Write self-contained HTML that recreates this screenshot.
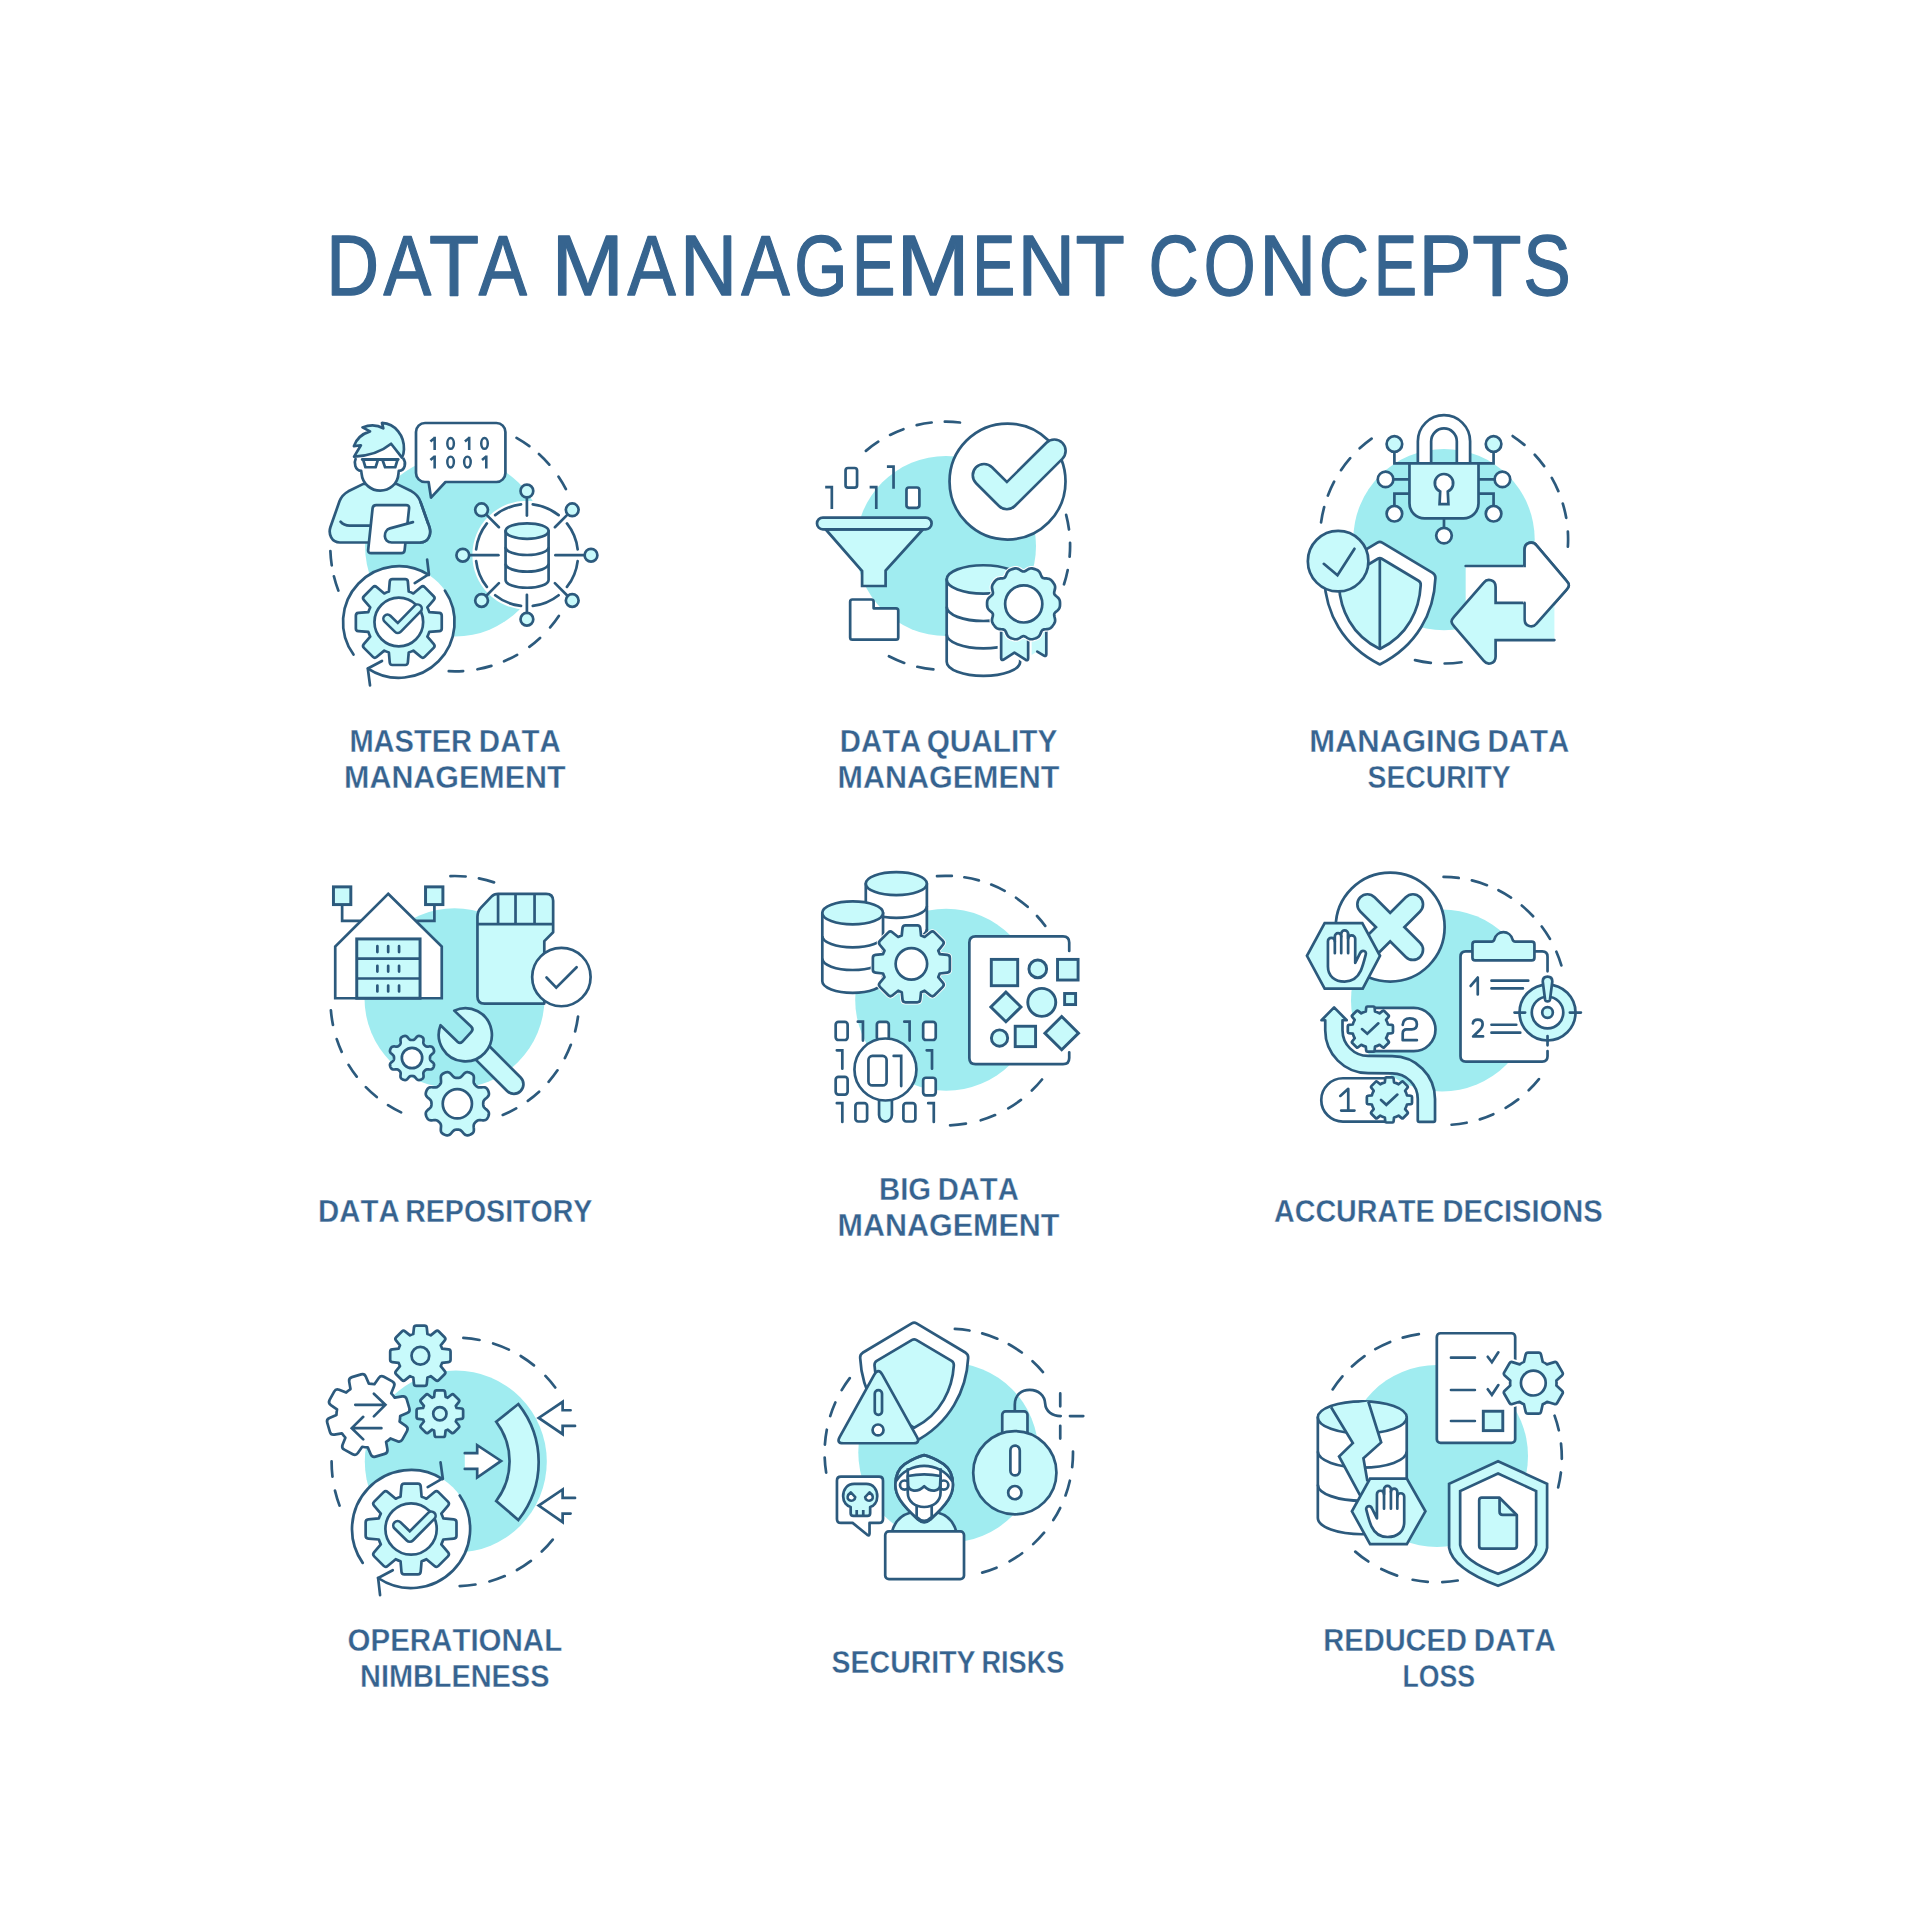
<!DOCTYPE html>
<html><head><meta charset="utf-8"><title>Data management concepts</title>
<style>
html,body{margin:0;padding:0;background:#fff}
body{width:1920px;height:1920px;overflow:hidden}
svg{display:block}
text{font-family:"Liberation Sans",sans-serif;font-kerning:none}
.dg{font-weight:bold;font-size:17px;fill:#2c5a7d;text-anchor:middle}
.lb{font-weight:bold;fill:#36638f;stroke:#ffffff;stroke-width:0.35px}
.tt{fill:#36648f;stroke:#36648f;stroke-width:1.3px;stroke-linejoin:round}
</style></head><body>
<svg width="1920" height="1920" viewBox="0 0 1920 1920" stroke-width="2.7" stroke-linejoin="round">
<rect width="1920" height="1920" fill="#ffffff"/>
<g id="icon1"><circle cx="455.1" cy="546.5" r="90" fill="#a0ecf0" stroke="none"/><path d="M516.55,437.88 A124.8,124.8 0 0 1 529.33,446.18 M538.93,454.05 A124.8,124.8 0 0 1 549.29,464.62 M558.56,476.71 A124.8,124.8 0 0 1 565.9,489.07 M558.81,615.93 A124.8,124.8 0 0 1 550.14,627.39 M540.05,637.92 A124.8,124.8 0 0 1 529.33,646.82 M517.12,654.8 A124.8,124.8 0 0 1 504.06,661.29 M491.38,665.91 A124.8,124.8 0 0 1 477.41,669.29 M463.15,671.04 A124.8,124.8 0 0 1 448.79,671.14 M338.36,590.61 A124.8,124.8 0 0 1 333.9,576.27 M331.74,565.38 A124.8,124.8 0 0 1 330.38,551.07" fill="none" stroke="#2c5a7d" stroke-width="2.7" stroke-linecap="round"/><g transform="translate(445,470) scale(0.088543)" ><circle cx="925" cy="962" r="616" fill="#ffffff" stroke="none"/><path d="M991.32,388.82 A577,577 0 0 1 1283.4,509.81 M1377.19,603.6 A577,577 0 0 1 1498.18,895.68 M1498.18,1028.32 A577,577 0 0 1 1377.19,1320.4 M1283.4,1414.19 A577,577 0 0 1 991.32,1535.18 M858.68,1535.18 A577,577 0 0 1 566.6,1414.19 M472.81,1320.4 A577,577 0 0 1 351.82,1028.32 M351.82,895.68 A577,577 0 0 1 472.81,603.6 M566.6,509.81 A577,577 0 0 1 858.68,388.82" fill="none" stroke="#2c5a7d" stroke-width="30.49" stroke-linecap="round"/><path d="M925,515 L925,310" fill="none" stroke="#2c5a7d" stroke-width="30.49" stroke-linecap="round"/><circle cx="925" cy="238" r="72" fill="#c8fafb" stroke="#2c5a7d" stroke-width="30.49"/><path d="M1241.08,645.92 L1386.03,500.97" fill="none" stroke="#2c5a7d" stroke-width="30.49" stroke-linecap="round"/><circle cx="1436.95" cy="450.05" r="72" fill="#c8fafb" stroke="#2c5a7d" stroke-width="30.49"/><path d="M1247,962 L1577,962" fill="none" stroke="#2c5a7d" stroke-width="30.49" stroke-linecap="round"/><circle cx="1649" cy="962" r="72" fill="#c8fafb" stroke="#2c5a7d" stroke-width="30.49"/><path d="M1241.08,1278.08 L1386.03,1423.03" fill="none" stroke="#2c5a7d" stroke-width="30.49" stroke-linecap="round"/><circle cx="1436.95" cy="1473.95" r="72" fill="#c8fafb" stroke="#2c5a7d" stroke-width="30.49"/><path d="M925,1409 L925,1614" fill="none" stroke="#2c5a7d" stroke-width="30.49" stroke-linecap="round"/><circle cx="925" cy="1686" r="72" fill="#c8fafb" stroke="#2c5a7d" stroke-width="30.49"/><path d="M608.92,1278.08 L463.97,1423.03" fill="none" stroke="#2c5a7d" stroke-width="30.49" stroke-linecap="round"/><circle cx="413.05" cy="1473.95" r="72" fill="#c8fafb" stroke="#2c5a7d" stroke-width="30.49"/><path d="M603,962 L273,962" fill="none" stroke="#2c5a7d" stroke-width="30.49" stroke-linecap="round"/><circle cx="201" cy="962" r="72" fill="#c8fafb" stroke="#2c5a7d" stroke-width="30.49"/><path d="M608.92,645.92 L463.97,500.97" fill="none" stroke="#2c5a7d" stroke-width="30.49" stroke-linecap="round"/><circle cx="413.05" cy="450.05" r="72" fill="#c8fafb" stroke="#2c5a7d" stroke-width="30.49"/><path d="M684,690 L684,1242 A243,88 0 0 0 1170,1242 L1170,690 Z" fill="#ffffff" stroke="#2c5a7d" stroke-width="30.49"/><path d="M684,872 A243,88 0 0 0 1170,872" fill="none" stroke="#2c5a7d" stroke-width="30.49"/><path d="M684,1060 A243,88 0 0 0 1170,1060" fill="none" stroke="#2c5a7d" stroke-width="30.49"/><ellipse cx="927" cy="690" rx="243" ry="88" fill="#c8fafb" stroke="#2c5a7d" stroke-width="30.49"/></g><path d="M425,423 L496.4,423 A9,9 0 0 1 505.4,432 L505.4,473 A9,9 0 0 1 496.4,482 L445.5,482 L431,497.6 L428.6,482 L425,482 A9,9 0 0 1 416,473 L416,432 A9,9 0 0 1 425,423 Z" fill="#ffffff" stroke="#2c5a7d" stroke-width="2.7" stroke-linejoin="round"/><g transform="translate(320,415) scale(0.088543)" ><path d="M1295,247 L1295,395 M1247,299 L1291,261" fill="none" stroke="#2c5a7d" stroke-width="29" stroke-linecap="butt"/><ellipse cx="1475" cy="321" rx="37" ry="61" fill="none" stroke="#2c5a7d" stroke-width="28"/><path d="M1685,247 L1685,395 M1637,299 L1681,261" fill="none" stroke="#2c5a7d" stroke-width="29" stroke-linecap="butt"/><ellipse cx="1858" cy="321" rx="37" ry="61" fill="none" stroke="#2c5a7d" stroke-width="28"/><path d="M1295,457 L1295,605 M1247,509 L1291,471" fill="none" stroke="#2c5a7d" stroke-width="29" stroke-linecap="butt"/><ellipse cx="1475" cy="531" rx="37" ry="61" fill="none" stroke="#2c5a7d" stroke-width="28"/><ellipse cx="1665" cy="531" rx="37" ry="61" fill="none" stroke="#2c5a7d" stroke-width="28"/><path d="M1878,457 L1878,605 M1830,509 L1874,471" fill="none" stroke="#2c5a7d" stroke-width="29" stroke-linecap="butt"/></g><g transform="translate(320,415) scale(0.088543)" ><path d="M490,778 L320,862 C270,890 240,920 220,975 L118,1265 C92,1345 130,1440 225,1440 L1130,1440 C1225,1440 1262,1345 1235,1265 L1133,975 C1113,920 1085,890 1035,862 L865,778 Z" fill="#c8fafb" stroke="#2c5a7d" stroke-width="30.49" stroke-linejoin="round"/><path d="M232,1205 C260,1240 300,1250 335,1250 L570,1250" fill="none" stroke="#2c5a7d" stroke-width="30.49" stroke-linecap="round"/><path d="M635,1018 L972,1018 Q1010,1018 1006,1055 L956,1525 Q952,1560 918,1560 L578,1560 Q540,1560 544,1525 L594,1053 Q598,1018 635,1018 Z" fill="#ffffff" stroke="#2c5a7d" stroke-width="30.49"/><path d="M1050,1210 L790,1280 C712,1302 708,1440 810,1440 L1130,1440 C1190,1440 1225,1400 1235,1350 L1215,1230 Z" fill="#c8fafb" stroke="none"/><path d="M1050,1210 L790,1280 C712,1302 708,1440 810,1440 L1130,1440" fill="none" stroke="#2c5a7d" stroke-width="30.49" stroke-linecap="round"/><path d="M1130,1440 C1225,1440 1262,1345 1235,1265 L1133,975" fill="none" stroke="#2c5a7d" stroke-width="30.49"/><path d="M405,485 C380,540 395,625 465,632 L470,665 C480,780 580,855 680,855 C785,855 878,780 886,665 L890,632 C962,625 978,540 938,485" fill="#ffffff" stroke="#2c5a7d" stroke-width="30.49" stroke-linejoin="round"/><path d="M487,505 L513,590 L628,590 L655,505 Z M705,505 L735,590 L850,590 L876,505 Z" fill="#ffffff" stroke="#2c5a7d" stroke-width="30.49" stroke-linejoin="round"/><path d="M478,503 L882,503" fill="none" stroke="#2c5a7d" stroke-width="33.54" stroke-linecap="round"/><path d="M385,470 L462,342 L383,352 C410,270 470,215 565,185 L480,140 C560,108 650,112 715,150 L700,90 C850,100 955,230 948,390 C947,430 938,460 926,482 L803,325 C700,410 560,462 385,470 Z" fill="#c8fafb" stroke="#2c5a7d" stroke-width="30.49" stroke-linejoin="round"/></g><g transform="translate(320,545) scale(0.088543)" ><circle cx="890" cy="870" r="630" fill="#ffffff" stroke="none"/><path d="M378.39,1237.63 A630,630 0 0 1 1228.5,338.66" fill="none" stroke="#2c5a7d" stroke-width="30.49" stroke-linecap="round"/><path d="M1410.44,514.98 A630,630 0 0 1 542.28,1395.35" fill="none" stroke="#2c5a7d" stroke-width="30.49" stroke-linecap="round"/><path d="M1210,165 L1230,330 L1070,430" fill="none" stroke="#2c5a7d" stroke-width="30.49" stroke-linecap="round" stroke-linejoin="round"/><path d="M700,1310 L540,1395 L565,1585" fill="none" stroke="#2c5a7d" stroke-width="30.49" stroke-linecap="round" stroke-linejoin="round"/><path d="M778,525.76 L787.62,412.9 Q790,385 818,385 L962,385 Q990,385 992.38,412.9 L1002,525.76 A362,362 0 0 1 1054.22,547.39 L1140.83,474.39 Q1162.24,456.34 1182.04,476.14 L1283.86,577.96 Q1303.66,597.76 1285.61,619.17 L1212.61,705.78 A362,362 0 0 1 1234.24,758 L1347.1,767.62 Q1375,770 1375,798 L1375,942 Q1375,970 1347.1,972.38 L1234.24,982 A362,362 0 0 1 1212.61,1034.22 L1285.61,1120.83 Q1303.66,1142.24 1283.86,1162.04 L1182.04,1263.86 Q1162.24,1283.66 1140.83,1265.61 L1054.22,1192.61 A362,362 0 0 1 1002,1214.24 L992.38,1327.1 Q990,1355 962,1355 L818,1355 Q790,1355 787.62,1327.1 L778,1214.24 A362,362 0 0 1 725.78,1192.61 L639.17,1265.61 Q617.76,1283.66 597.96,1263.86 L496.14,1162.04 Q476.34,1142.24 494.39,1120.83 L567.39,1034.22 A362,362 0 0 1 545.76,982 L432.9,972.38 Q405,970 405,942 L405,798 Q405,770 432.9,767.62 L545.76,758 A362,362 0 0 1 567.39,705.78 L494.39,619.17 Q476.34,597.76 496.14,577.96 L597.96,476.14 Q617.76,456.34 639.17,474.39 L725.78,547.39 A362,362 0 0 1 778,525.76 Z" fill="#c8fafb" stroke="#2c5a7d" stroke-width="30.49" stroke-linejoin="round"/><circle cx="890" cy="870" r="275" fill="#ffffff" stroke="#2c5a7d" stroke-width="30.49"/><path d="M762,832 L880,947 L1103,718" fill="none" stroke="#2c5a7d" stroke-width="122" stroke-linecap="round" stroke-linejoin="round"/><path d="M762,832 L880,947 L1103,718" fill="none" stroke="#c8fafb" stroke-width="64" stroke-linecap="round" stroke-linejoin="round"/></g></g>
<g id="icon2"><circle cx="946" cy="546" r="90" fill="#a0ecf0" stroke="none"/><path d="M865.9,450.9 A124.2,124.2 0 0 1 878.26,441.74 M890.09,434.94 A124.2,124.2 0 0 1 903.42,429.19 M916.7,425.18 A124.2,124.2 0 0 1 931.62,422.52 M944.82,421.7 A124.2,124.2 0 0 1 959.96,422.5 M1066.14,514.8 A124.2,124.2 0 0 1 1069.01,529.47 M1070.06,542.87 A124.2,124.2 0 0 1 1069.63,556.72 M1067.73,570.02 A124.2,124.2 0 0 1 1064.02,584.28 M933.35,669.46 A124.2,124.2 0 0 1 917.33,666.77 M904.24,662.9 A124.2,124.2 0 0 1 888.94,656.27" fill="none" stroke="#2c5a7d" stroke-width="2.7" stroke-linecap="round"/><g transform="translate(805,410) scale(0.088543)" ><path d="M228,872 L303,872 L303,1118" fill="none" stroke="#2c5a7d" stroke-width="30.49" stroke-linecap="butt" stroke-linejoin="miter"/><rect x="458" y="655" width="130" height="222" rx="28" fill="#ffffff" stroke="#2c5a7d" stroke-width="30.49"/><path d="M730,872 L805,872 L805,1118" fill="none" stroke="#2c5a7d" stroke-width="30.49" stroke-linecap="butt" stroke-linejoin="miter"/><path d="M925,640 L1000,640 L1000,888" fill="none" stroke="#2c5a7d" stroke-width="30.49" stroke-linecap="butt" stroke-linejoin="miter"/><rect x="1146" y="875" width="146" height="230" rx="28" fill="#ffffff" stroke="#2c5a7d" stroke-width="30.49"/></g><path d="M825.8,529.5 L862.1,571 L862.1,586 L885.6,586 L885.6,570.5 L922.8,529.5 Z" fill="#c8fafb" stroke="#2c5a7d" stroke-width="2.7" stroke-linejoin="miter"/><rect x="817" y="517.6" width="114.6" height="11.7" rx="5.85" fill="#c8fafb" stroke="#2c5a7d" stroke-width="2.7"/><g transform="translate(805,540) scale(0.088543)" ><path d="M535,672 L750,672 Q775,672 775,697 L775,772 L1028,772 Q1053,772 1053,797 L1053,1100 Q1053,1125 1028,1125 L535,1125 Q510,1125 510,1100 L510,697 Q510,672 535,672 Z" fill="#ffffff" stroke="#2c5a7d" stroke-width="30.49"/></g><g transform="translate(925,410) scale(0.088543)" ><circle cx="932" cy="808" r="655" fill="#ffffff" stroke="#2c5a7d" stroke-width="30.49"/><path d="M667,737 L925,993 L1461,461" fill="none" stroke="#2c5a7d" stroke-width="285" stroke-linecap="round" stroke-linejoin="round"/><path d="M667,737 L925,993 L1461,461" fill="none" stroke="#c8fafb" stroke-width="225" stroke-linecap="round" stroke-linejoin="round"/></g><g transform="translate(925,540) scale(0.088543)" ><path d="M245,445 L245,1375 A415,160 0 0 0 1075,1375 L1075,445 Z" fill="#ffffff" stroke="#2c5a7d" stroke-width="30.49"/><path d="M245,755 A415,160 0 0 0 1075,755" fill="none" stroke="#2c5a7d" stroke-width="30.49"/><path d="M245,1065 A415,160 0 0 0 1075,1065" fill="none" stroke="#2c5a7d" stroke-width="30.49"/><ellipse cx="660" cy="445" rx="415" ry="160" fill="#c8fafb" stroke="#2c5a7d" stroke-width="30.49"/><path d="M1185,1080 L1370,1000 L1370,1290 Q1370,1318 1343,1305 L1268,1260 L1185,1310 Z" fill="#c8fafb" stroke="none"/><path d="M1370,1000 L1370,1290 Q1370,1318 1343,1305 L1268,1260" fill="none" stroke="#2c5a7d" stroke-width="30.49" stroke-linecap="round"/><path d="M860,990 L860,1335 Q860,1365 888,1350 L1010,1272 L1135,1352 Q1165,1368 1165,1335 L1165,1080 Z" fill="#ffffff" stroke="#ffffff" stroke-width="79.28"/><path d="M860,990 L860,1335 Q860,1365 888,1350 L1010,1272 L1135,1352 Q1165,1368 1165,1335 L1165,1080 Z" fill="#c8fafb" stroke="#2c5a7d" stroke-width="30.49"/><path d="M1525.03,721 L1524.87,731.79 L1524.25,742.55 L1522.75,753.25 L1519.85,763.76 L1515.1,773.94 L1508.35,783.62 L1499.82,792.69 L1490.16,801.17 L1480.34,809.19 L1471.47,817.05 L1464.52,825.12 L1460.16,833.8 L1458.58,843.38 L1459.46,853.99 L1462.03,865.57 L1465.25,877.83 L1468.08,890.37 L1469.65,902.72 L1469.42,914.52 L1467.28,925.54 L1463.45,935.76 L1458.38,945.29 L1452.55,954.37 L1446.34,963.18 L1439.87,971.82 L1433.04,980.16 L1425.54,987.93 L1417.01,994.73 L1407.19,1000.18 L1396.04,1004.04 L1383.8,1006.37 L1371.01,1007.55 L1358.35,1008.27 L1346.55,1009.41 L1336.18,1011.85 L1327.56,1016.31 L1320.65,1023.14 L1315.12,1032.24 L1310.39,1043.11 L1305.79,1054.93 L1300.72,1066.73 L1294.72,1077.65 L1287.6,1087.06 L1279.39,1094.72 L1270.29,1100.73 L1260.58,1105.46 L1250.53,1109.38 L1240.32,1112.86 L1230.02,1116.04 L1219.59,1118.78 L1208.95,1120.66 L1198.05,1121.15 L1186.91,1119.78 L1175.62,1116.35 L1164.35,1111.04 L1153.3,1104.48 L1142.64,1097.62 L1132.42,1091.6 L1122.6,1087.49 L1113,1086.03 L1103.4,1087.49 L1093.58,1091.6 L1083.36,1097.62 L1072.7,1104.48 L1061.65,1111.04 L1050.38,1116.35 L1039.09,1119.78 L1027.95,1121.15 L1017.05,1120.66 L1006.41,1118.78 L995.98,1116.04 L985.68,1112.86 L975.47,1109.38 L965.42,1105.46 L955.71,1100.73 L946.61,1094.72 L938.4,1087.06 L931.28,1077.65 L925.28,1066.73 L920.21,1054.93 L915.61,1043.11 L910.88,1032.24 L905.35,1023.14 L898.44,1016.31 L889.82,1011.85 L879.45,1009.41 L867.65,1008.27 L854.99,1007.55 L842.2,1006.37 L829.96,1004.04 L818.81,1000.18 L808.99,994.73 L800.46,987.93 L792.96,980.16 L786.13,971.82 L779.66,963.18 L773.45,954.37 L767.62,945.29 L762.55,935.76 L758.72,925.54 L756.58,914.52 L756.35,902.72 L757.92,890.37 L760.75,877.83 L763.97,865.57 L766.54,853.99 L767.42,843.38 L765.84,833.8 L761.48,825.12 L754.53,817.05 L745.66,809.19 L735.84,801.17 L726.18,792.69 L717.65,783.62 L710.9,773.94 L706.15,763.76 L703.25,753.25 L701.75,742.55 L701.13,731.79 L700.98,721 L701.13,710.21 L701.75,699.45 L703.25,688.75 L706.15,678.24 L710.9,668.06 L717.65,658.38 L726.18,649.31 L735.84,640.83 L745.66,632.81 L754.53,624.95 L761.48,616.88 L765.84,608.2 L767.42,598.62 L766.54,588.01 L763.97,576.43 L760.75,564.17 L757.92,551.63 L756.35,539.28 L756.58,527.48 L758.72,516.46 L762.55,506.24 L767.62,496.71 L773.45,487.63 L779.66,478.82 L786.13,470.18 L792.96,461.84 L800.46,454.07 L808.99,447.27 L818.81,441.82 L829.96,437.96 L842.2,435.63 L854.99,434.45 L867.65,433.73 L879.45,432.59 L889.82,430.15 L898.44,425.69 L905.35,418.86 L910.88,409.76 L915.61,398.89 L920.21,387.07 L925.28,375.27 L931.28,364.35 L938.4,354.94 L946.61,347.28 L955.71,341.27 L965.42,336.54 L975.47,332.62 L985.68,329.14 L995.98,325.96 L1006.41,323.22 L1017.05,321.34 L1027.95,320.85 L1039.09,322.22 L1050.38,325.65 L1061.65,330.96 L1072.7,337.52 L1083.36,344.38 L1093.58,350.4 L1103.4,354.51 L1113,355.98 L1122.6,354.51 L1132.42,350.4 L1142.64,344.38 L1153.3,337.52 L1164.35,330.96 L1175.62,325.65 L1186.91,322.22 L1198.05,320.85 L1208.95,321.34 L1219.59,323.22 L1230.02,325.96 L1240.32,329.14 L1250.53,332.62 L1260.58,336.54 L1270.29,341.27 L1279.39,347.28 L1287.6,354.94 L1294.72,364.35 L1300.72,375.27 L1305.79,387.07 L1310.39,398.89 L1315.12,409.76 L1320.65,418.86 L1327.56,425.69 L1336.18,430.15 L1346.55,432.59 L1358.35,433.73 L1371.01,434.45 L1383.8,435.63 L1396.04,437.96 L1407.19,441.82 L1417.01,447.27 L1425.54,454.07 L1433.04,461.84 L1439.87,470.18 L1446.34,478.82 L1452.55,487.63 L1458.38,496.71 L1463.45,506.24 L1467.28,516.46 L1469.42,527.48 L1469.65,539.28 L1468.08,551.63 L1465.25,564.17 L1462.03,576.43 L1459.46,588.01 L1458.58,598.62 L1460.16,608.2 L1464.52,616.88 L1471.47,624.95 L1480.34,632.81 L1490.16,640.83 L1499.82,649.31 L1508.35,658.38 L1515.1,668.06 L1519.85,678.24 L1522.75,688.75 L1524.25,699.45 L1524.87,710.21 Z" fill="#ffffff" stroke="#ffffff" stroke-width="54.89"/><path d="M1525.03,721 L1524.87,731.79 L1524.25,742.55 L1522.75,753.25 L1519.85,763.76 L1515.1,773.94 L1508.35,783.62 L1499.82,792.69 L1490.16,801.17 L1480.34,809.19 L1471.47,817.05 L1464.52,825.12 L1460.16,833.8 L1458.58,843.38 L1459.46,853.99 L1462.03,865.57 L1465.25,877.83 L1468.08,890.37 L1469.65,902.72 L1469.42,914.52 L1467.28,925.54 L1463.45,935.76 L1458.38,945.29 L1452.55,954.37 L1446.34,963.18 L1439.87,971.82 L1433.04,980.16 L1425.54,987.93 L1417.01,994.73 L1407.19,1000.18 L1396.04,1004.04 L1383.8,1006.37 L1371.01,1007.55 L1358.35,1008.27 L1346.55,1009.41 L1336.18,1011.85 L1327.56,1016.31 L1320.65,1023.14 L1315.12,1032.24 L1310.39,1043.11 L1305.79,1054.93 L1300.72,1066.73 L1294.72,1077.65 L1287.6,1087.06 L1279.39,1094.72 L1270.29,1100.73 L1260.58,1105.46 L1250.53,1109.38 L1240.32,1112.86 L1230.02,1116.04 L1219.59,1118.78 L1208.95,1120.66 L1198.05,1121.15 L1186.91,1119.78 L1175.62,1116.35 L1164.35,1111.04 L1153.3,1104.48 L1142.64,1097.62 L1132.42,1091.6 L1122.6,1087.49 L1113,1086.03 L1103.4,1087.49 L1093.58,1091.6 L1083.36,1097.62 L1072.7,1104.48 L1061.65,1111.04 L1050.38,1116.35 L1039.09,1119.78 L1027.95,1121.15 L1017.05,1120.66 L1006.41,1118.78 L995.98,1116.04 L985.68,1112.86 L975.47,1109.38 L965.42,1105.46 L955.71,1100.73 L946.61,1094.72 L938.4,1087.06 L931.28,1077.65 L925.28,1066.73 L920.21,1054.93 L915.61,1043.11 L910.88,1032.24 L905.35,1023.14 L898.44,1016.31 L889.82,1011.85 L879.45,1009.41 L867.65,1008.27 L854.99,1007.55 L842.2,1006.37 L829.96,1004.04 L818.81,1000.18 L808.99,994.73 L800.46,987.93 L792.96,980.16 L786.13,971.82 L779.66,963.18 L773.45,954.37 L767.62,945.29 L762.55,935.76 L758.72,925.54 L756.58,914.52 L756.35,902.72 L757.92,890.37 L760.75,877.83 L763.97,865.57 L766.54,853.99 L767.42,843.38 L765.84,833.8 L761.48,825.12 L754.53,817.05 L745.66,809.19 L735.84,801.17 L726.18,792.69 L717.65,783.62 L710.9,773.94 L706.15,763.76 L703.25,753.25 L701.75,742.55 L701.13,731.79 L700.98,721 L701.13,710.21 L701.75,699.45 L703.25,688.75 L706.15,678.24 L710.9,668.06 L717.65,658.38 L726.18,649.31 L735.84,640.83 L745.66,632.81 L754.53,624.95 L761.48,616.88 L765.84,608.2 L767.42,598.62 L766.54,588.01 L763.97,576.43 L760.75,564.17 L757.92,551.63 L756.35,539.28 L756.58,527.48 L758.72,516.46 L762.55,506.24 L767.62,496.71 L773.45,487.63 L779.66,478.82 L786.13,470.18 L792.96,461.84 L800.46,454.07 L808.99,447.27 L818.81,441.82 L829.96,437.96 L842.2,435.63 L854.99,434.45 L867.65,433.73 L879.45,432.59 L889.82,430.15 L898.44,425.69 L905.35,418.86 L910.88,409.76 L915.61,398.89 L920.21,387.07 L925.28,375.27 L931.28,364.35 L938.4,354.94 L946.61,347.28 L955.71,341.27 L965.42,336.54 L975.47,332.62 L985.68,329.14 L995.98,325.96 L1006.41,323.22 L1017.05,321.34 L1027.95,320.85 L1039.09,322.22 L1050.38,325.65 L1061.65,330.96 L1072.7,337.52 L1083.36,344.38 L1093.58,350.4 L1103.4,354.51 L1113,355.98 L1122.6,354.51 L1132.42,350.4 L1142.64,344.38 L1153.3,337.52 L1164.35,330.96 L1175.62,325.65 L1186.91,322.22 L1198.05,320.85 L1208.95,321.34 L1219.59,323.22 L1230.02,325.96 L1240.32,329.14 L1250.53,332.62 L1260.58,336.54 L1270.29,341.27 L1279.39,347.28 L1287.6,354.94 L1294.72,364.35 L1300.72,375.27 L1305.79,387.07 L1310.39,398.89 L1315.12,409.76 L1320.65,418.86 L1327.56,425.69 L1336.18,430.15 L1346.55,432.59 L1358.35,433.73 L1371.01,434.45 L1383.8,435.63 L1396.04,437.96 L1407.19,441.82 L1417.01,447.27 L1425.54,454.07 L1433.04,461.84 L1439.87,470.18 L1446.34,478.82 L1452.55,487.63 L1458.38,496.71 L1463.45,506.24 L1467.28,516.46 L1469.42,527.48 L1469.65,539.28 L1468.08,551.63 L1465.25,564.17 L1462.03,576.43 L1459.46,588.01 L1458.58,598.62 L1460.16,608.2 L1464.52,616.88 L1471.47,624.95 L1480.34,632.81 L1490.16,640.83 L1499.82,649.31 L1508.35,658.38 L1515.1,668.06 L1519.85,678.24 L1522.75,688.75 L1524.25,699.45 L1524.87,710.21 Z" fill="#c8fafb" stroke="#2c5a7d" stroke-width="30.49"/><circle cx="1115" cy="722" r="210" fill="#ffffff" stroke="#2c5a7d" stroke-width="30.49"/></g></g>
<g id="icon3"><circle cx="1444" cy="539.6" r="90.7" fill="#a0ecf0" stroke="none"/><path d="M1321.08,522.34 A124.1,124.1 0 0 1 1324.18,507.07 M1327.91,495.53 A124.1,124.1 0 0 1 1334.12,481.71 M1341,470.18 A124.1,124.1 0 0 1 1350.2,458.15 M1359.68,448.34 A124.1,124.1 0 0 1 1371.58,438.62 M1512.68,436.03 A124.1,124.1 0 0 1 1524.43,444.89 M1534.76,454.76 A124.1,124.1 0 0 1 1544.14,466.11 M1551.8,477.91 A124.1,124.1 0 0 1 1558.32,491.11 M1562.8,503.53 A124.1,124.1 0 0 1 1566.21,517.85 M1567.86,531.61 A124.1,124.1 0 0 1 1567.88,546.76 M1461.49,662.26 A124.1,124.1 0 0 1 1444.65,663.5 M1430.81,662.8 A124.1,124.1 0 0 1 1415.03,660.07" fill="none" stroke="#2c5a7d" stroke-width="2.7" stroke-linecap="round"/><g transform="translate(1355,405) scale(0.088543)" ><path d="M445,528 L445,660 L615,660 M1565,528 L1565,660 L1395,660 M433,840 L615,840 M1577,840 L1395,840 M615,1000 L445,1000 L445,1140 M1395,1000 L1565,1000 L1565,1140 M1005,1280 L1005,1387" fill="none" stroke="#2c5a7d" stroke-width="30.49" stroke-linejoin="miter"/><circle cx="445" cy="440" r="88" fill="#c8fafb" stroke="#2c5a7d" stroke-width="30.49"/><circle cx="1565" cy="440" r="88" fill="#c8fafb" stroke="#2c5a7d" stroke-width="30.49"/><circle cx="345" cy="840" r="88" fill="#ffffff" stroke="#2c5a7d" stroke-width="30.49"/><circle cx="1665" cy="840" r="88" fill="#ffffff" stroke="#2c5a7d" stroke-width="30.49"/><circle cx="445" cy="1228" r="88" fill="#ffffff" stroke="#2c5a7d" stroke-width="30.49"/><circle cx="1565" cy="1228" r="88" fill="#ffffff" stroke="#2c5a7d" stroke-width="30.49"/><circle cx="1005" cy="1475" r="88" fill="#ffffff" stroke="#2c5a7d" stroke-width="30.49"/><path d="M710,660 L710,410 A295,295 0 0 1 1300,410 L1300,660 L1150,660 L1150,410 A145,145 0 0 0 860,410 L860,660 Z" fill="#ffffff" stroke="#2c5a7d" stroke-width="30.49"/><path d="M615,660 L1395,660 L1395,1110 A170,170 0 0 1 1225,1280 L785,1280 A170,170 0 0 1 615,1110 Z" fill="#c8fafb" stroke="#2c5a7d" stroke-width="30.49" stroke-linejoin="miter"/><path d="M955,1120 L962,978 A104,104 0 1 1 1048,978 L1055,1120 Z" fill="#ffffff" stroke="#2c5a7d" stroke-width="30.49" stroke-linejoin="miter"/></g><g transform="translate(1440,525) scale(0.088543)" ><path d="M290,463 L955,463 L955,280 C955,190 1050,180 1090,230 L1425,625 C1465,670 1465,690 1425,735 L1090,1115 C1050,1165 955,1150 955,1065 L955,880 L290,880 Z" fill="#ffffff" stroke="none"/><path d="M290,463 L955,463 L955,280 C955,190 1050,180 1090,230 L1425,625 C1465,670 1465,690 1425,735 L1090,1115 C1050,1165 955,1150 955,1065 L955,880" fill="none" stroke="#2c5a7d" stroke-width="30.49" stroke-linecap="round" stroke-linejoin="miter"/><path d="M1292,1300 L628,1300 L628,1485 C628,1570 535,1585 495,1535 L160,1145 C120,1100 120,1080 160,1035 L495,650 C535,600 628,615 628,700 L628,880 L1292,880 Z" fill="#c8fafb" stroke="none"/><path d="M1292,1300 L628,1300 L628,1485 C628,1570 535,1585 495,1535 L160,1145 C120,1100 120,1080 160,1035 L495,650 C535,600 628,615 628,700 L628,880 L955,880" fill="none" stroke="#2c5a7d" stroke-width="30.49" stroke-linecap="round" stroke-linejoin="miter"/><clipPath id="c3a"><rect x="940" y="0" width="700" height="1700"/></clipPath><g clip-path="url(#c3a)"><path d="M290,463 L955,463 L955,280 C955,190 1050,180 1090,230 L1425,625 C1465,670 1465,690 1425,735 L1090,1115 C1050,1165 955,1150 955,1065 L955,880 L290,880 Z" fill="#ffffff" stroke="none"/><path d="M290,463 L955,463 L955,280 C955,190 1050,180 1090,230 L1425,625 C1465,670 1465,690 1425,735 L1090,1115 C1050,1165 955,1150 955,1065 L955,880" fill="none" stroke="#2c5a7d" stroke-width="30.49" stroke-linecap="round" stroke-linejoin="miter"/></g></g><g transform="translate(1295,520) scale(0.088543)" ><path d="M985,256 L1555,598 Q1587,618 1586,655 C1570,1050 1380,1420 958,1632 C536,1420 346,1050 330,655 Q329,618 361,598 L931,256 Q958,240 985,256 Z" fill="#ffffff" stroke="#2c5a7d" stroke-width="30.49"/><path d="M980,438 L1395,686 Q1422,702 1420,735 C1405,1010 1280,1300 958,1457 C636,1300 511,1010 496,735 Q494,702 521,686 L936,438 Q958,425 980,438 Z" fill="#c8fafb" stroke="#2c5a7d" stroke-width="30.49"/><path d="M958,430 L958,1455" fill="none" stroke="#2c5a7d" stroke-width="30.49"/><circle cx="487" cy="465" r="342" fill="#c8fafb" stroke="#2c5a7d" stroke-width="30.49"/><path d="M325,495 L480,625 L672,325" fill="none" stroke="#2c5a7d" stroke-width="30.49" stroke-linecap="round" stroke-linejoin="miter"/></g></g>
<g id="icon4"><circle cx="454.5" cy="998.3" r="90" fill="#a0ecf0" stroke="none"/><path d="M450.46,876.08 A124.3,124.3 0 0 1 465.63,876.47 M478.94,878.37 A124.3,124.3 0 0 1 494.04,882.35 M332.95,1024.87 A124.3,124.3 0 0 1 330.9,1010.27 M341.69,1051.85 A124.3,124.3 0 0 1 336.72,1039.12 M356.72,1076.66 A124.3,124.3 0 0 1 348.59,1064.88 M376.74,1097.04 A124.3,124.3 0 0 1 365.84,1087.11 M401.09,1112.4 A124.3,124.3 0 0 1 388.01,1105.13 M578.04,1016.52 A124.3,124.3 0 0 1 575.14,1031.42 M570.84,1044.85 A124.3,124.3 0 0 1 564.85,1058.08 M557.48,1070.35 A124.3,124.3 0 0 1 548.61,1081.85 M539.1,1091.65 A124.3,124.3 0 0 1 527.86,1100.86 M516.2,1108.38 A124.3,124.3 0 0 1 502.77,1114.97" fill="none" stroke="#2c5a7d" stroke-width="2.7" stroke-linecap="round"/><g transform="translate(320,865) scale(0.088543)" ><path d="M250,450 L250,630 L470,630 M1292,450 L1292,630 L1075,630" fill="none" stroke="#2c5a7d" stroke-width="30.49" stroke-linejoin="miter"/><rect x="152" y="247" width="196" height="200" rx="0" fill="#c8fafb" stroke="#2c5a7d" stroke-width="33.54" stroke-linejoin="miter"/><rect x="1192" y="247" width="196" height="200" rx="0" fill="#c8fafb" stroke="#2c5a7d" stroke-width="33.54" stroke-linejoin="miter"/><path d="M770,325 L1375,920 L1375,1505 L172,1505 L172,920 Z" fill="#ffffff" stroke="#2c5a7d" stroke-width="30.49" stroke-linejoin="miter"/><rect x="415" y="835" width="715" height="670" rx="0" fill="#c8fafb" stroke="#2c5a7d" stroke-width="33.54" stroke-linejoin="miter"/><path d="M415,1057 L1130,1057 M415,1282 L1130,1282" fill="none" stroke="#2c5a7d" stroke-width="30.49"/><path d="M648,917 L648,983 M770,917 L770,983 M893,917 L893,983 M648,1138 L648,1204 M770,1138 L770,1204 M893,1138 L893,1204 M648,1362 L648,1428 M770,1362 L770,1428 M893,1362 L893,1428 " fill="none" stroke="#2c5a7d" stroke-width="30.49" stroke-linecap="round"/></g><g transform="translate(450,865) scale(0.088543)" ><path d="M310,585 Q310,525 350,482 L468,357 Q498,325 545,325 L1085,325 Q1165,325 1165,405 L1165,760 L1065,860 L1065,1565 L390,1565 Q310,1565 310,1485 Z" fill="#c8fafb" stroke="#2c5a7d" stroke-width="30.49"/><path d="M310,668 L1165,668 M543,330 L543,668 M740,330 L740,668 M955,330 L955,668" fill="none" stroke="#2c5a7d" stroke-width="30.49"/><circle cx="1258" cy="1265" r="330" fill="#ffffff" stroke="#2c5a7d" stroke-width="30.49"/><path d="M1090,1270 L1200,1385 L1430,1155" fill="none" stroke="#2c5a7d" stroke-width="30.49" stroke-linecap="round" stroke-linejoin="miter"/></g><g transform="translate(375,1000) scale(0.088543)" ><path d="M1290,520 L1645,875 A108,108 0 0 1 1492,1028 L1140,676 Z" fill="#c8fafb" stroke="#2c5a7d" stroke-width="30.49"/><path d="M895,120 L1085,300 Q1115,330 1088,360 L985,472 Q960,498 932,472 L740,285 A300,300 0 1 0 895,120 Z" fill="#c8fafb" stroke="#2c5a7d" stroke-width="30.49"/><path d="M621,655 L621.05,658.54 L621.2,662.1 L621.5,665.67 L622.02,669.27 L622.88,672.92 L624.23,676.68 L626.32,680.58 L629.39,684.71 L633.66,689.16 L639.12,693.99 L645.4,699.2 L651.76,704.69 L657.41,710.27 L661.79,715.78 L664.77,721.12 L666.48,726.25 L667.19,731.18 L667.15,735.95 L666.57,740.59 L665.58,745.11 L664.3,749.54 L662.76,753.89 L661,758.15 L659.01,762.31 L656.79,766.35 L654.28,770.24 L651.42,773.93 L648.07,777.33 L644.08,780.32 L639.25,782.74 L633.37,784.41 L626.37,785.2 L618.43,785.16 L610.05,784.54 L601.93,783.79 L594.65,783.34 L588.49,783.47 L583.39,784.22 L579.15,785.5 L575.54,787.2 L572.35,789.18 L569.44,791.36 L566.7,793.67 L564.08,796.07 L561.54,798.54 L559.07,801.08 L556.67,803.7 L554.36,806.44 L552.18,809.35 L550.2,812.54 L548.5,816.15 L547.22,820.39 L546.47,825.49 L546.34,831.65 L546.79,838.93 L547.54,847.05 L548.16,855.43 L548.2,863.37 L547.41,870.37 L545.74,876.25 L543.32,881.08 L540.33,885.07 L536.93,888.42 L533.24,891.28 L529.35,893.79 L525.31,896.01 L521.15,898 L516.89,899.76 L512.54,901.3 L508.11,902.58 L503.59,903.57 L498.95,904.15 L494.18,904.19 L489.25,903.48 L484.12,901.77 L478.78,898.79 L473.27,894.41 L467.69,888.76 L462.2,882.4 L456.99,876.12 L452.16,870.66 L447.71,866.39 L443.58,863.32 L439.68,861.23 L435.92,859.88 L432.27,859.02 L428.67,858.5 L425.1,858.2 L421.54,858.05 L418,858 L414.46,858.05 L410.9,858.2 L407.33,858.5 L403.73,859.02 L400.08,859.88 L396.32,861.23 L392.42,863.32 L388.29,866.39 L383.84,870.66 L379.01,876.12 L373.8,882.4 L368.31,888.76 L362.73,894.41 L357.22,898.79 L351.88,901.77 L346.75,903.48 L341.82,904.19 L337.05,904.15 L332.41,903.57 L327.89,902.58 L323.46,901.3 L319.11,899.76 L314.85,898 L310.69,896.01 L306.65,893.79 L302.76,891.28 L299.07,888.42 L295.67,885.07 L292.68,881.08 L290.26,876.25 L288.59,870.37 L287.8,863.37 L287.84,855.43 L288.46,847.05 L289.21,838.93 L289.66,831.65 L289.53,825.49 L288.78,820.39 L287.5,816.15 L285.8,812.54 L283.82,809.35 L281.64,806.44 L279.33,803.7 L276.93,801.08 L274.46,798.54 L271.92,796.07 L269.3,793.67 L266.56,791.36 L263.65,789.18 L260.46,787.2 L256.85,785.5 L252.61,784.22 L247.51,783.47 L241.35,783.34 L234.07,783.79 L225.95,784.54 L217.57,785.16 L209.63,785.2 L202.63,784.41 L196.75,782.74 L191.92,780.32 L187.93,777.33 L184.58,773.93 L181.72,770.24 L179.21,766.35 L176.99,762.31 L175,758.15 L173.24,753.89 L171.7,749.54 L170.42,745.11 L169.43,740.59 L168.85,735.95 L168.81,731.18 L169.52,726.25 L171.23,721.12 L174.21,715.78 L178.59,710.27 L184.24,704.69 L190.6,699.2 L196.88,693.99 L202.34,689.16 L206.61,684.71 L209.68,680.58 L211.77,676.68 L213.12,672.92 L213.98,669.27 L214.5,665.67 L214.8,662.1 L214.95,658.54 L215,655 L214.95,651.46 L214.8,647.9 L214.5,644.33 L213.98,640.73 L213.12,637.08 L211.77,633.32 L209.68,629.42 L206.61,625.29 L202.34,620.84 L196.88,616.01 L190.6,610.8 L184.24,605.31 L178.59,599.73 L174.21,594.22 L171.23,588.88 L169.52,583.75 L168.81,578.82 L168.85,574.05 L169.43,569.41 L170.42,564.89 L171.7,560.46 L173.24,556.11 L175,551.85 L176.99,547.69 L179.21,543.65 L181.72,539.76 L184.58,536.07 L187.93,532.67 L191.92,529.68 L196.75,527.26 L202.63,525.59 L209.63,524.8 L217.57,524.84 L225.95,525.46 L234.07,526.21 L241.35,526.66 L247.51,526.53 L252.61,525.78 L256.85,524.5 L260.46,522.8 L263.65,520.82 L266.56,518.64 L269.3,516.33 L271.92,513.93 L274.46,511.46 L276.93,508.92 L279.33,506.3 L281.64,503.56 L283.82,500.65 L285.8,497.46 L287.5,493.85 L288.78,489.61 L289.53,484.51 L289.66,478.35 L289.21,471.07 L288.46,462.95 L287.84,454.57 L287.8,446.63 L288.59,439.63 L290.26,433.75 L292.68,428.92 L295.67,424.93 L299.07,421.58 L302.76,418.72 L306.65,416.21 L310.69,413.99 L314.85,412 L319.11,410.24 L323.46,408.7 L327.89,407.42 L332.41,406.43 L337.05,405.85 L341.82,405.81 L346.75,406.52 L351.88,408.23 L357.22,411.21 L362.73,415.59 L368.31,421.24 L373.8,427.6 L379.01,433.88 L383.84,439.34 L388.29,443.61 L392.42,446.68 L396.32,448.77 L400.08,450.12 L403.73,450.98 L407.33,451.5 L410.9,451.8 L414.46,451.95 L418,452 L421.54,451.95 L425.1,451.8 L428.67,451.5 L432.27,450.98 L435.92,450.12 L439.68,448.77 L443.58,446.68 L447.71,443.61 L452.16,439.34 L456.99,433.88 L462.2,427.6 L467.69,421.24 L473.27,415.59 L478.78,411.21 L484.12,408.23 L489.25,406.52 L494.18,405.81 L498.95,405.85 L503.59,406.43 L508.11,407.42 L512.54,408.7 L516.89,410.24 L521.15,412 L525.31,413.99 L529.35,416.21 L533.24,418.72 L536.93,421.58 L540.33,424.93 L543.32,428.92 L545.74,433.75 L547.41,439.63 L548.2,446.63 L548.16,454.57 L547.54,462.95 L546.79,471.07 L546.34,478.35 L546.47,484.51 L547.22,489.61 L548.5,493.85 L550.2,497.46 L552.18,500.65 L554.36,503.56 L556.67,506.3 L559.07,508.92 L561.54,511.46 L564.08,513.93 L566.7,516.33 L569.44,518.64 L572.35,520.82 L575.54,522.8 L579.15,524.5 L583.39,525.78 L588.49,526.53 L594.65,526.66 L601.93,526.21 L610.05,525.46 L618.43,524.84 L626.37,524.8 L633.37,525.59 L639.25,527.26 L644.08,529.68 L648.07,532.67 L651.42,536.07 L654.28,539.76 L656.79,543.65 L659.01,547.69 L661,551.85 L662.76,556.11 L664.3,560.46 L665.58,564.89 L666.57,569.41 L667.15,574.05 L667.19,578.82 L666.48,583.75 L664.77,588.88 L661.79,594.22 L657.41,599.73 L651.76,605.31 L645.4,610.8 L639.12,616.01 L633.66,620.84 L629.39,625.29 L626.32,629.42 L624.23,633.32 L622.88,637.08 L622.02,640.73 L621.5,644.33 L621.2,647.9 L621.05,651.46 Z" fill="#c8fafb" stroke="#2c5a7d" stroke-width="30.49"/><circle cx="418" cy="655" r="115" fill="#ffffff" stroke="#2c5a7d" stroke-width="30.49"/><path d="M1222,1172 L1222.07,1177.1 L1222.28,1182.21 L1222.7,1187.34 L1223.43,1192.52 L1224.62,1197.78 L1226.52,1203.17 L1229.45,1208.77 L1233.78,1214.69 L1239.78,1221.06 L1247.46,1227.98 L1256.29,1235.42 L1265.24,1243.26 L1273.18,1251.23 L1279.34,1259.1 L1283.51,1266.72 L1285.89,1274.05 L1286.86,1281.1 L1286.78,1287.92 L1285.92,1294.55 L1284.51,1301.03 L1282.66,1307.37 L1280.45,1313.59 L1277.93,1319.69 L1275.09,1325.64 L1271.91,1331.44 L1268.34,1337.02 L1264.25,1342.31 L1259.49,1347.19 L1253.82,1351.49 L1246.95,1354.99 L1238.61,1357.43 L1228.69,1358.64 L1217.44,1358.66 L1205.57,1357.87 L1194.06,1356.9 L1183.74,1356.36 L1174.99,1356.61 L1167.74,1357.75 L1161.71,1359.64 L1156.56,1362.1 L1151.99,1364.98 L1147.82,1368.13 L1143.89,1371.46 L1140.13,1374.92 L1136.48,1378.48 L1132.92,1382.13 L1129.46,1385.89 L1126.13,1389.82 L1122.98,1393.99 L1120.1,1398.56 L1117.64,1403.71 L1115.75,1409.74 L1114.61,1416.99 L1114.36,1425.74 L1114.9,1436.06 L1115.87,1447.57 L1116.66,1459.44 L1116.64,1470.69 L1115.43,1480.61 L1112.99,1488.95 L1109.49,1495.82 L1105.19,1501.49 L1100.31,1506.25 L1095.02,1510.34 L1089.44,1513.91 L1083.64,1517.09 L1077.69,1519.93 L1071.59,1522.45 L1065.37,1524.66 L1059.03,1526.51 L1052.55,1527.92 L1045.92,1528.78 L1039.1,1528.86 L1032.05,1527.89 L1024.72,1525.51 L1017.1,1521.34 L1009.23,1515.18 L1001.26,1507.24 L993.42,1498.29 L985.98,1489.46 L979.06,1481.78 L972.69,1475.78 L966.77,1471.45 L961.17,1468.52 L955.78,1466.62 L950.52,1465.43 L945.34,1464.7 L940.21,1464.28 L935.1,1464.07 L930,1464 L924.9,1464.07 L919.79,1464.28 L914.66,1464.7 L909.48,1465.43 L904.22,1466.62 L898.83,1468.52 L893.23,1471.45 L887.31,1475.78 L880.94,1481.78 L874.02,1489.46 L866.58,1498.29 L858.74,1507.24 L850.77,1515.18 L842.9,1521.34 L835.28,1525.51 L827.95,1527.89 L820.9,1528.86 L814.08,1528.78 L807.45,1527.92 L800.97,1526.51 L794.63,1524.66 L788.41,1522.45 L782.31,1519.93 L776.36,1517.09 L770.56,1513.91 L764.98,1510.34 L759.69,1506.25 L754.81,1501.49 L750.51,1495.82 L747.01,1488.95 L744.57,1480.61 L743.36,1470.69 L743.34,1459.44 L744.13,1447.57 L745.1,1436.06 L745.64,1425.74 L745.39,1416.99 L744.25,1409.74 L742.36,1403.71 L739.9,1398.56 L737.02,1393.99 L733.87,1389.82 L730.54,1385.89 L727.08,1382.13 L723.52,1378.48 L719.87,1374.92 L716.11,1371.46 L712.18,1368.13 L708.01,1364.98 L703.44,1362.1 L698.29,1359.64 L692.26,1357.75 L685.01,1356.61 L676.26,1356.36 L665.94,1356.9 L654.43,1357.87 L642.56,1358.66 L631.31,1358.64 L621.39,1357.43 L613.05,1354.99 L606.18,1351.49 L600.51,1347.19 L595.75,1342.31 L591.66,1337.02 L588.09,1331.44 L584.91,1325.64 L582.07,1319.69 L579.55,1313.59 L577.34,1307.37 L575.49,1301.03 L574.08,1294.55 L573.22,1287.92 L573.14,1281.1 L574.11,1274.05 L576.49,1266.72 L580.66,1259.1 L586.82,1251.23 L594.76,1243.26 L603.71,1235.42 L612.54,1227.98 L620.22,1221.06 L626.22,1214.69 L630.55,1208.77 L633.48,1203.17 L635.38,1197.78 L636.57,1192.52 L637.3,1187.34 L637.72,1182.21 L637.93,1177.1 L638,1172 L637.93,1166.9 L637.72,1161.79 L637.3,1156.66 L636.57,1151.48 L635.38,1146.22 L633.48,1140.83 L630.55,1135.23 L626.22,1129.31 L620.22,1122.94 L612.54,1116.02 L603.71,1108.58 L594.76,1100.74 L586.82,1092.77 L580.66,1084.9 L576.49,1077.28 L574.11,1069.95 L573.14,1062.9 L573.22,1056.08 L574.08,1049.45 L575.49,1042.97 L577.34,1036.63 L579.55,1030.41 L582.07,1024.31 L584.91,1018.36 L588.09,1012.56 L591.66,1006.98 L595.75,1001.69 L600.51,996.81 L606.18,992.51 L613.05,989.01 L621.39,986.57 L631.31,985.36 L642.56,985.34 L654.43,986.13 L665.94,987.1 L676.26,987.64 L685.01,987.39 L692.26,986.25 L698.29,984.36 L703.44,981.9 L708.01,979.02 L712.18,975.87 L716.11,972.54 L719.87,969.08 L723.52,965.52 L727.08,961.87 L730.54,958.11 L733.87,954.18 L737.02,950.01 L739.9,945.44 L742.36,940.29 L744.25,934.26 L745.39,927.01 L745.64,918.26 L745.1,907.94 L744.13,896.43 L743.34,884.56 L743.36,873.31 L744.57,863.39 L747.01,855.05 L750.51,848.18 L754.81,842.51 L759.69,837.75 L764.98,833.66 L770.56,830.09 L776.36,826.91 L782.31,824.07 L788.41,821.55 L794.63,819.34 L800.97,817.49 L807.45,816.08 L814.08,815.22 L820.9,815.14 L827.95,816.11 L835.28,818.49 L842.9,822.66 L850.77,828.82 L858.74,836.76 L866.58,845.71 L874.02,854.54 L880.94,862.22 L887.31,868.22 L893.23,872.55 L898.83,875.48 L904.22,877.38 L909.48,878.57 L914.66,879.3 L919.79,879.72 L924.9,879.93 L930,880 L935.1,879.93 L940.21,879.72 L945.34,879.3 L950.52,878.57 L955.78,877.38 L961.17,875.48 L966.77,872.55 L972.69,868.22 L979.06,862.22 L985.98,854.54 L993.42,845.71 L1001.26,836.76 L1009.23,828.82 L1017.1,822.66 L1024.72,818.49 L1032.05,816.11 L1039.1,815.14 L1045.92,815.22 L1052.55,816.08 L1059.03,817.49 L1065.37,819.34 L1071.59,821.55 L1077.69,824.07 L1083.64,826.91 L1089.44,830.09 L1095.02,833.66 L1100.31,837.75 L1105.19,842.51 L1109.49,848.18 L1112.99,855.05 L1115.43,863.39 L1116.64,873.31 L1116.66,884.56 L1115.87,896.43 L1114.9,907.94 L1114.36,918.26 L1114.61,927.01 L1115.75,934.26 L1117.64,940.29 L1120.1,945.44 L1122.98,950.01 L1126.13,954.18 L1129.46,958.11 L1132.92,961.87 L1136.48,965.52 L1140.13,969.08 L1143.89,972.54 L1147.82,975.87 L1151.99,979.02 L1156.56,981.9 L1161.71,984.36 L1167.74,986.25 L1174.99,987.39 L1183.74,987.64 L1194.06,987.1 L1205.57,986.13 L1217.44,985.34 L1228.69,985.36 L1238.61,986.57 L1246.95,989.01 L1253.82,992.51 L1259.49,996.81 L1264.25,1001.69 L1268.34,1006.98 L1271.91,1012.56 L1275.09,1018.36 L1277.93,1024.31 L1280.45,1030.41 L1282.66,1036.63 L1284.51,1042.97 L1285.92,1049.45 L1286.78,1056.08 L1286.86,1062.9 L1285.89,1069.95 L1283.51,1077.28 L1279.34,1084.9 L1273.18,1092.77 L1265.24,1100.74 L1256.29,1108.58 L1247.46,1116.02 L1239.78,1122.94 L1233.78,1129.31 L1229.45,1135.23 L1226.52,1140.83 L1224.62,1146.22 L1223.43,1151.48 L1222.7,1156.66 L1222.28,1161.79 L1222.07,1166.9 Z" fill="#c8fafb" stroke="#2c5a7d" stroke-width="30.49"/><circle cx="930" cy="1172" r="165" fill="#ffffff" stroke="#2c5a7d" stroke-width="30.49"/></g></g>
<g id="icon5"><circle cx="946.2" cy="999.8" r="91" fill="#a0ecf0" stroke="none"/><path d="M937.03,876.07 A124.8,124.8 0 0 1 951.83,875.97 M964.39,877.27 A124.8,124.8 0 0 1 978.86,880.4 M991.24,884.56 A124.8,124.8 0 0 1 1004.66,890.82 M1015.99,897.75 A124.8,124.8 0 0 1 1027.67,906.84 M1037.02,915.97 A124.8,124.8 0 0 1 1045.23,925.84 M1042.01,1079.48 A124.8,124.8 0 0 1 1031.84,1090.52 M1020.93,1099.88 A124.8,124.8 0 0 1 1008.27,1108.35 M995.06,1115.05 A124.8,124.8 0 0 1 980.75,1120.26 M965.9,1123.69 A124.8,124.8 0 0 1 950.09,1125.31" fill="none" stroke="#2c5a7d" stroke-width="2.7" stroke-linecap="round"/><g transform="translate(810,862) scale(0.088543)" ><path d="M630,245 L630,1000 A345,130 0 0 0 1320,1000 L1320,245 Z" fill="#ffffff" stroke="#2c5a7d" stroke-width="30.49"/><path d="M630,500 A345,130 0 0 0 1320,500" fill="none" stroke="#2c5a7d" stroke-width="30.49"/><path d="M630,760 A345,130 0 0 0 1320,760" fill="none" stroke="#2c5a7d" stroke-width="30.49"/><ellipse cx="975" cy="245" rx="345" ry="130" fill="#c8fafb" stroke="#2c5a7d" stroke-width="30.49"/><path d="M139,575 L139,1348 A343,130 0 0 0 825,1348 L825,575 Z" fill="#ffffff" stroke="#2c5a7d" stroke-width="30.49"/><path d="M139,835 A343,130 0 0 0 825,835" fill="none" stroke="#2c5a7d" stroke-width="30.49"/><path d="M139,1090 A343,130 0 0 0 825,1090" fill="none" stroke="#2c5a7d" stroke-width="30.49"/><ellipse cx="482" cy="575" rx="343" ry="130" fill="#c8fafb" stroke="#2c5a7d" stroke-width="30.49"/><path d="M1036,830.06 L1044.89,744.84 Q1048,715 1078,715 L1212,715 Q1242,715 1245.11,744.84 L1254,830.06 A338,338 0 0 1 1294.16,846.69 L1360.7,792.72 Q1384,773.82 1405.22,795.03 L1499.97,889.78 Q1521.18,911 1502.28,934.3 L1448.31,1000.84 A338,338 0 0 1 1464.94,1041 L1550.16,1049.89 Q1580,1053 1580,1083 L1580,1217 Q1580,1247 1550.16,1250.11 L1464.94,1259 A338,338 0 0 1 1448.31,1299.16 L1502.28,1365.7 Q1521.18,1389 1499.97,1410.22 L1405.22,1504.97 Q1384,1526.18 1360.7,1507.28 L1294.16,1453.31 A338,338 0 0 1 1254,1469.94 L1245.11,1555.16 Q1242,1585 1212,1585 L1078,1585 Q1048,1585 1044.89,1555.16 L1036,1469.94 A338,338 0 0 1 995.84,1453.31 L929.3,1507.28 Q906,1526.18 884.78,1504.97 L790.03,1410.22 Q768.82,1389 787.72,1365.7 L841.69,1299.16 A338,338 0 0 1 825.06,1259 L739.84,1250.11 Q710,1247 710,1217 L710,1083 Q710,1053 739.84,1049.89 L825.06,1041 A338,338 0 0 1 841.69,1000.84 L787.72,934.3 Q768.82,911 790.03,889.78 L884.78,795.03 Q906,773.82 929.3,792.72 L995.84,846.69 A338,338 0 0 1 1036,830.06 Z" fill="#ffffff" stroke="#ffffff" stroke-width="48.79"/><path d="M1036,830.06 L1044.89,744.84 Q1048,715 1078,715 L1212,715 Q1242,715 1245.11,744.84 L1254,830.06 A338,338 0 0 1 1294.16,846.69 L1360.7,792.72 Q1384,773.82 1405.22,795.03 L1499.97,889.78 Q1521.18,911 1502.28,934.3 L1448.31,1000.84 A338,338 0 0 1 1464.94,1041 L1550.16,1049.89 Q1580,1053 1580,1083 L1580,1217 Q1580,1247 1550.16,1250.11 L1464.94,1259 A338,338 0 0 1 1448.31,1299.16 L1502.28,1365.7 Q1521.18,1389 1499.97,1410.22 L1405.22,1504.97 Q1384,1526.18 1360.7,1507.28 L1294.16,1453.31 A338,338 0 0 1 1254,1469.94 L1245.11,1555.16 Q1242,1585 1212,1585 L1078,1585 Q1048,1585 1044.89,1555.16 L1036,1469.94 A338,338 0 0 1 995.84,1453.31 L929.3,1507.28 Q906,1526.18 884.78,1504.97 L790.03,1410.22 Q768.82,1389 787.72,1365.7 L841.69,1299.16 A338,338 0 0 1 825.06,1259 L739.84,1250.11 Q710,1247 710,1217 L710,1083 Q710,1053 739.84,1049.89 L825.06,1041 A338,338 0 0 1 841.69,1000.84 L787.72,934.3 Q768.82,911 790.03,889.78 L884.78,795.03 Q906,773.82 929.3,792.72 L995.84,846.69 A338,338 0 0 1 1036,830.06 Z" fill="#c8fafb" stroke="#2c5a7d" stroke-width="30.49"/><circle cx="1145" cy="1150" r="178" fill="#ffffff" stroke="#2c5a7d" stroke-width="30.49"/></g><g transform="translate(955,920) scale(0.088543)" ><rect x="162" y="185" width="1128" height="1443" rx="70" fill="#ffffff" stroke="none"/><rect x="1280" y="380" width="135" height="1100" rx="0" fill="#ffffff" stroke="none"/><path d="M1290,350 L1290,255 Q1290,185 1220,185 L232,185 Q162,185 162,255 L162,1558 Q162,1628 232,1628 L1220,1628 Q1290,1628 1290,1558 L1290,1495" fill="none" stroke="#2c5a7d" stroke-width="30.49" stroke-linecap="round"/><rect x="410" y="445" width="298" height="297" rx="0" fill="#c8fafb" stroke="#2c5a7d" stroke-width="32.93" stroke-linejoin="miter"/><circle cx="935" cy="552" r="100" fill="#c8fafb" stroke="#2c5a7d" stroke-width="32.93"/><rect x="1158" y="445" width="232" height="233" rx="0" fill="#c8fafb" stroke="#2c5a7d" stroke-width="32.93" stroke-linejoin="miter"/><path d="M575,815 L745,982 L575,1150 L405,982 Z" fill="#c8fafb" stroke="#2c5a7d" stroke-width="32.93" stroke-linejoin="miter"/><circle cx="980" cy="930" r="158" fill="#c8fafb" stroke="#2c5a7d" stroke-width="32.93"/><rect x="1238" y="830" width="124" height="125" rx="0" fill="#c8fafb" stroke="#2c5a7d" stroke-width="32.93" stroke-linejoin="miter"/><circle cx="503" cy="1333" r="92" fill="#c8fafb" stroke="#2c5a7d" stroke-width="32.93"/><rect x="680" y="1200" width="230" height="230" rx="0" fill="#c8fafb" stroke="#2c5a7d" stroke-width="32.93" stroke-linejoin="miter"/><path d="M1205,1090 L1395,1278 L1205,1465 L1015,1278 Z" fill="#c8fafb" stroke="#2c5a7d" stroke-width="32.93" stroke-linejoin="miter"/></g><g transform="translate(810,1000) scale(0.088543)" ><rect x="290" y="248" width="135" height="204" rx="32" fill="#ffffff" stroke="#2c5a7d" stroke-width="30.49"/><path d="M540,245 L598,245 L598,458" fill="none" stroke="#2c5a7d" stroke-width="30.49" stroke-linecap="round" stroke-linejoin="miter"/><rect x="755" y="248" width="135" height="204" rx="32" fill="#ffffff" stroke="#2c5a7d" stroke-width="30.49"/><path d="M1065,245 L1125,245 L1125,458" fill="none" stroke="#2c5a7d" stroke-width="30.49" stroke-linecap="round" stroke-linejoin="miter"/><rect x="1278" y="248" width="142" height="204" rx="32" fill="#ffffff" stroke="#2c5a7d" stroke-width="30.49"/><path d="M303,568 L365,568 L365,776" fill="none" stroke="#2c5a7d" stroke-width="30.49" stroke-linecap="round" stroke-linejoin="miter"/><path d="M1318,568 L1378,568 L1378,776" fill="none" stroke="#2c5a7d" stroke-width="30.49" stroke-linecap="round" stroke-linejoin="miter"/><rect x="290" y="868" width="135" height="200" rx="32" fill="#ffffff" stroke="#2c5a7d" stroke-width="30.49"/><rect x="1278" y="878" width="142" height="200" rx="32" fill="#ffffff" stroke="#2c5a7d" stroke-width="30.49"/><path d="M303,1165 L365,1165 L365,1378" fill="none" stroke="#2c5a7d" stroke-width="30.49" stroke-linecap="round" stroke-linejoin="miter"/><rect x="513" y="1165" width="132" height="207" rx="32" fill="#ffffff" stroke="#2c5a7d" stroke-width="30.49"/><rect x="1055" y="1165" width="135" height="207" rx="32" fill="#ffffff" stroke="#2c5a7d" stroke-width="30.49"/><path d="M1335,1165 L1398,1165 L1398,1378" fill="none" stroke="#2c5a7d" stroke-width="30.49" stroke-linecap="round" stroke-linejoin="miter"/><path d="M780,1120 L780,1300 A72.5,72.5 0 0 0 925,1300 L925,1120" fill="#c8fafb" stroke="#2c5a7d" stroke-width="30.49"/><circle cx="852" cy="785" r="350" fill="#ffffff" stroke="#2c5a7d" stroke-width="30.49"/><rect x="660" y="632" width="205" height="333" rx="45" fill="#ffffff" stroke="#2c5a7d" stroke-width="30.49"/><path d="M945,632 L1030,632 L1030,972" fill="none" stroke="#2c5a7d" stroke-width="30.49" stroke-linecap="round" stroke-linejoin="miter"/></g></g>
<g id="icon6"><circle cx="1442" cy="1000.4" r="91" fill="#a0ecf0" stroke="none"/><path d="M1443.58,876.9 A124.1,124.1 0 0 1 1458.7,877.96 M1471.89,880.43 A124.1,124.1 0 0 1 1486.97,885.14 M1498.45,890.23 A124.1,124.1 0 0 1 1511,897.51 M1521.77,905.52 A124.1,124.1 0 0 1 1533.11,916.21 M1541.74,926.49 A124.1,124.1 0 0 1 1549.97,938.95 M1556.39,951.71 A124.1,124.1 0 0 1 1561.37,965.34 M1538.94,1079.1 A124.1,124.1 0 0 1 1528.71,1090.27 M1518.22,1099.32 A124.1,124.1 0 0 1 1505.67,1107.82 M1493.37,1114.19 A124.1,124.1 0 0 1 1479.82,1119.36 M1466.6,1122.74 A124.1,124.1 0 0 1 1451.59,1124.77" fill="none" stroke="#2c5a7d" stroke-width="2.7" stroke-linecap="round"/><g transform="translate(1295,862) scale(0.088543)" ><circle cx="1075" cy="735" r="615" fill="#ffffff" stroke="#2c5a7d" stroke-width="30.49"/><path d="M818,478 L1332,992 M1332,478 L818,992" fill="none" stroke="#2c5a7d" stroke-width="258" stroke-linecap="round"/><path d="M818,478 L1332,992 M1332,478 L818,992" fill="none" stroke="#c8fafb" stroke-width="198" stroke-linecap="round"/><path d="M335,690 L760,690 L960,1060 L765,1430 L335,1430 L135,1060 Z" fill="#c8fafb" stroke="#2c5a7d" stroke-width="30.49" stroke-linejoin="miter"/><path d="M372,1180 L372,895 A39,39 0 0 1 450,895 L450,840 A36,36 0 0 1 522,840 L522,812 A39,39 0 0 1 600,812 L600,868 A40,40 0 0 1 680,868 L680,1140 L735,1030 C755,985 815,1000 798,1050 C780,1120 765,1180 742,1230 C700,1320 625,1350 560,1350 C450,1350 372,1290 372,1180 Z" fill="#ffffff" stroke="#2c5a7d" stroke-width="30.49"/><path d="M450,895 L450,1030 M522,840 L522,1030 M600,815 L600,1030" fill="none" stroke="#2c5a7d" stroke-width="30.49" stroke-linecap="round"/></g><g transform="translate(1445,920) scale(0.088543)" ><rect x="175" y="355" width="983" height="1245" rx="60" fill="#ffffff" stroke="none"/><path d="M1158,580 L1158,415 Q1158,355 1098,355 L235,355 Q175,355 175,415 L175,1540 Q175,1600 235,1600 L1098,1600 Q1158,1600 1158,1540 L1158,1480" fill="none" stroke="#2c5a7d" stroke-width="30.49" stroke-linecap="round"/><path d="M340,245 L525,245 Q552,245 558,218 A105,105 0 0 1 762,218 Q768,245 795,245 L980,245 Q1010,245 1010,275 L1010,425 Q1010,455 980,455 L340,455 Q310,455 310,425 L310,275 Q310,245 340,245 Z" fill="#c8fafb" stroke="#2c5a7d" stroke-width="30.49"/><path d="M290,745 L370,650 L370,840" fill="none" stroke="#2c5a7d" stroke-width="30.49" stroke-linecap="round" stroke-linejoin="round"/><path d="M525,685 L940,685 M525,773 L880,773 M525,1183 L805,1183 M525,1273 L850,1273" fill="none" stroke="#2c5a7d" stroke-width="30.49" stroke-linecap="round"/><path d="M315,1168 Q320,1125 370,1125 Q425,1125 425,1175 Q425,1212 390,1245 L318,1315 L430,1315" fill="none" stroke="#2c5a7d" stroke-width="30.49" stroke-linecap="round" stroke-linejoin="round"/><circle cx="1158" cy="1045" r="316" fill="#c8fafb" stroke="#2c5a7d" stroke-width="30.49"/><circle cx="1158" cy="1045" r="178" fill="#ffffff" stroke="#2c5a7d" stroke-width="30.49"/><circle cx="1158" cy="1045" r="60" fill="#c8fafb" stroke="#2c5a7d" stroke-width="30.49"/><path d="M785,1045 L905,1045 M1410,1045 L1535,1045 M1158,1310 L1158,1415" fill="none" stroke="#2c5a7d" stroke-width="30.49" stroke-linecap="round"/><path d="M1104,695 Q1104,640 1158,640 Q1212,640 1212,695 L1186,898 Q1182,920 1158,920 Q1134,920 1130,898 Z" fill="#c8fafb" stroke="#2c5a7d" stroke-width="30.49"/></g><g transform="translate(1300,995) scale(0.088543)" ><path d="M760,145 L1285,145 A245,245 0 0 1 1285,635 L760,635" fill="#ffffff" stroke="#2c5a7d" stroke-width="30.49"/><path d="M1045,940 L485,940 A245,245 0 0 0 485,1430 L1045,1430" fill="#ffffff" stroke="#2c5a7d" stroke-width="30.49"/><path d="M1525,1415 L1525,1175 A485,485 0 0 0 1040,690 L770,688 A290,290 0 0 1 480,398 L480,285 L528,285 L385,140 L243,285 L285,285 L285,398 A485,485 0 0 0 770,883 L1040,885 A290,290 0 0 1 1330,1175 L1330,1415 Q1330,1432 1347,1432 L1508,1432 Q1525,1432 1525,1415 Z" fill="#c8fafb" stroke="#2c5a7d" stroke-width="30.49"/><path d="M993.3,333 L1038.07,337.74 Q1050,339 1050,351 L1050,419 Q1050,431 1038.07,432.26 L993.3,437 A205,205 0 0 1 971.99,488.45 L1000.29,523.45 Q1007.84,532.79 999.35,541.27 L951.27,589.35 Q942.79,597.84 933.45,590.29 L898.45,561.99 A205,205 0 0 1 847,583.3 L842.26,628.07 Q841,640 829,640 L761,640 Q749,640 747.74,628.07 L743,583.3 A205,205 0 0 1 691.55,561.99 L656.55,590.29 Q647.21,597.84 638.73,589.35 L590.65,541.27 Q582.16,532.79 589.71,523.45 L618.01,488.45 A205,205 0 0 1 596.7,437 L551.93,432.26 Q540,431 540,419 L540,351 Q540,339 551.93,337.74 L596.7,333 A205,205 0 0 1 618.01,281.55 L589.71,246.55 Q582.16,237.21 590.65,228.73 L638.73,180.65 Q647.21,172.16 656.55,179.71 L691.55,208.01 A205,205 0 0 1 743,186.7 L747.74,141.93 Q749,130 761,130 L829,130 Q841,130 842.26,141.93 L847,186.7 A205,205 0 0 1 898.45,208.01 L933.45,179.71 Q942.79,172.16 951.27,180.65 L999.35,228.73 Q1007.84,237.21 1000.29,246.55 L971.99,281.55 A205,205 0 0 1 993.3,333 Z" fill="#c8fafb" stroke="#2c5a7d" stroke-width="30.49"/><path d="M700,385 L760,437 L885,320" fill="none" stroke="#2c5a7d" stroke-width="30.49" stroke-linecap="round" stroke-linejoin="miter"/><path d="M1208.3,1133 L1253.07,1137.74 Q1265,1139 1265,1151 L1265,1219 Q1265,1231 1253.07,1232.26 L1208.3,1237 A205,205 0 0 1 1186.99,1288.45 L1215.29,1323.45 Q1222.84,1332.79 1214.35,1341.27 L1166.27,1389.35 Q1157.79,1397.84 1148.45,1390.29 L1113.45,1361.99 A205,205 0 0 1 1062,1383.3 L1057.26,1428.07 Q1056,1440 1044,1440 L976,1440 Q964,1440 962.74,1428.07 L958,1383.3 A205,205 0 0 1 906.55,1361.99 L871.55,1390.29 Q862.21,1397.84 853.73,1389.35 L805.65,1341.27 Q797.16,1332.79 804.71,1323.45 L833.01,1288.45 A205,205 0 0 1 811.7,1237 L766.93,1232.26 Q755,1231 755,1219 L755,1151 Q755,1139 766.93,1137.74 L811.7,1133 A205,205 0 0 1 833.01,1081.55 L804.71,1046.55 Q797.16,1037.21 805.65,1028.73 L853.73,980.65 Q862.21,972.16 871.55,979.71 L906.55,1008.01 A205,205 0 0 1 958,986.7 L962.74,941.93 Q964,930 976,930 L1044,930 Q1056,930 1057.26,941.93 L1062,986.7 A205,205 0 0 1 1113.45,1008.01 L1148.45,979.71 Q1157.79,972.16 1166.27,980.65 L1214.35,1028.73 Q1222.84,1037.21 1215.29,1046.55 L1186.99,1081.55 A205,205 0 0 1 1208.3,1133 Z" fill="#c8fafb" stroke="#2c5a7d" stroke-width="30.49"/><path d="M915,1185 L975,1240 L1100,1125" fill="none" stroke="#2c5a7d" stroke-width="30.49" stroke-linecap="round" stroke-linejoin="miter"/><path d="M1160,338 Q1165,265 1240,265 Q1320,265 1320,330 Q1320,388 1262,388 L1205,388 Q1160,388 1160,435 L1160,510 L1320,510" fill="none" stroke="#2c5a7d" stroke-width="30.49" stroke-linecap="round" stroke-linejoin="round"/><path d="M455,1140 L545,1060 L545,1305 M465,1305 L615,1305" fill="none" stroke="#2c5a7d" stroke-width="30.49" stroke-linecap="round" stroke-linejoin="round"/></g></g>
<g id="icon7"><circle cx="455.8" cy="1461.6" r="91" fill="#a0ecf0" stroke="none"/><path d="M463.38,1337.93 A124.2,124.2 0 0 1 479.5,1339.98 M493.15,1343.45 A124.2,124.2 0 0 1 508.88,1349.61 M520.69,1356 A124.2,124.2 0 0 1 533.96,1365.38 M545.44,1375.94 A124.2,124.2 0 0 1 555.25,1387.5 M339.54,1505.6 A124.2,124.2 0 0 1 334.98,1490.68 M332.47,1476.61 A124.2,124.2 0 0 1 331.6,1461.47 M552.73,1539.56 A124.2,124.2 0 0 1 541.76,1551.54 M530.89,1560.83 A124.2,124.2 0 0 1 516.96,1570 M504.73,1576.06 A124.2,124.2 0 0 1 489.41,1581.47 M475.44,1584.54 A124.2,124.2 0 0 1 459.7,1586.04" fill="none" stroke="#2c5a7d" stroke-width="2.7" stroke-linecap="round"/><g transform="translate(440,1385) scale(0.088543)" ><path d="M885,215 A1050,1050 0 0 1 885,1525 L635,1310 A740,740 0 0 0 635,415 Z" fill="#c8fafb" stroke="#2c5a7d" stroke-width="30.49" stroke-linejoin="miter"/><path d="M280,770 L420,770 L420,680 L690,858 L420,1045 L420,948 L280,948" fill="#ffffff" stroke="#2c5a7d" stroke-width="30.49" stroke-linecap="round" stroke-linejoin="miter"/><path d="M1475,285 L1385,285 L1385,190 L1115,372 L1385,555 L1385,462 L1525,462" fill="#ffffff" stroke="#2c5a7d" stroke-width="30.49" stroke-linecap="round" stroke-linejoin="miter"/><path d="M1525,1275 L1385,1275 L1385,1180 L1115,1362 L1385,1548 L1385,1452 L1475,1452" fill="#ffffff" stroke="#2c5a7d" stroke-width="30.49" stroke-linecap="round" stroke-linejoin="miter"/></g><g transform="translate(315,1315) scale(0.088543)" ><path d="M1110,214.72 L1117.51,142.87 Q1120,119 1144,119 L1236,119 Q1260,119 1262.49,142.87 L1270,214.72 A258,258 0 0 1 1306.87,229.99 L1362.98,184.49 Q1381.63,169.38 1398.6,186.35 L1463.65,251.4 Q1480.62,268.37 1465.51,287.02 L1420.01,343.13 A258,258 0 0 1 1435.28,380 L1507.13,387.51 Q1531,390 1531,414 L1531,506 Q1531,530 1507.13,532.49 L1435.28,540 A258,258 0 0 1 1420.01,576.87 L1465.51,632.98 Q1480.62,651.63 1463.65,668.6 L1398.6,733.65 Q1381.63,750.62 1362.98,735.51 L1306.87,690.01 A258,258 0 0 1 1270,705.28 L1262.49,777.13 Q1260,801 1236,801 L1144,801 Q1120,801 1117.51,777.13 L1110,705.28 A258,258 0 0 1 1073.13,690.01 L1017.02,735.51 Q998.37,750.62 981.4,733.65 L916.35,668.6 Q899.38,651.63 914.49,632.98 L959.99,576.87 A258,258 0 0 1 944.72,540 L872.87,532.49 Q849,530 849,506 L849,414 Q849,390 872.87,387.51 L944.72,380 A258,258 0 0 1 959.99,343.13 L914.49,287.02 Q899.38,268.37 916.35,251.4 L981.4,186.35 Q998.37,169.38 1017.02,184.49 L1073.13,229.99 A258,258 0 0 1 1110,214.72 Z" fill="#c8fafb" stroke="#2c5a7d" stroke-width="30.49"/><circle cx="1190" cy="460" r="100" fill="#c8fafb" stroke="#2c5a7d" stroke-width="30.49"/><path d="M1345,925.86 L1350.85,871.88 Q1353,852 1373,852 L1447,852 Q1467,852 1469.15,871.88 L1475,925.86 A200,200 0 0 1 1497.78,935.29 L1540.08,901.26 Q1555.66,888.73 1569.81,902.87 L1622.13,955.19 Q1636.27,969.34 1623.74,984.92 L1589.71,1027.22 A200,200 0 0 1 1599.14,1050 L1653.12,1055.85 Q1673,1058 1673,1078 L1673,1152 Q1673,1172 1653.12,1174.15 L1599.14,1180 A200,200 0 0 1 1589.71,1202.78 L1623.74,1245.08 Q1636.27,1260.66 1622.13,1274.81 L1569.81,1327.13 Q1555.66,1341.27 1540.08,1328.74 L1497.78,1294.71 A200,200 0 0 1 1475,1304.14 L1469.15,1358.12 Q1467,1378 1447,1378 L1373,1378 Q1353,1378 1350.85,1358.12 L1345,1304.14 A200,200 0 0 1 1322.22,1294.71 L1279.92,1328.74 Q1264.34,1341.27 1250.19,1327.13 L1197.87,1274.81 Q1183.73,1260.66 1196.26,1245.08 L1230.29,1202.78 A200,200 0 0 1 1220.86,1180 L1166.88,1174.15 Q1147,1172 1147,1152 L1147,1078 Q1147,1058 1166.88,1055.85 L1220.86,1050 A200,200 0 0 1 1230.29,1027.22 L1196.26,984.92 Q1183.73,969.34 1197.87,955.19 L1250.19,902.87 Q1264.34,888.73 1279.92,901.26 L1322.22,935.29 A200,200 0 0 1 1345,925.86 Z" fill="#c8fafb" stroke="#2c5a7d" stroke-width="30.49"/><circle cx="1410" cy="1115" r="75" fill="#c8fafb" stroke="#2c5a7d" stroke-width="30.49"/><path d="M955.33,1203.95 L1025.34,1252.81 Q1058.14,1275.7 1039.05,1310.85 L987.52,1405.77 Q968.43,1440.92 931.37,1425.88 L852.27,1393.78 A360,360 0 0 1 803.09,1433.6 L818.04,1517.65 Q825.05,1557.03 786.7,1568.39 L683.14,1599.06 Q644.79,1610.43 629.22,1573.58 L595.98,1494.95 A360,360 0 0 1 533.05,1488.33 L484.19,1558.34 Q461.3,1591.14 426.15,1572.05 L331.23,1520.52 Q296.08,1501.43 311.12,1464.37 L343.22,1385.27 A360,360 0 0 1 303.4,1336.09 L219.35,1351.04 Q179.97,1358.05 168.61,1319.7 L137.94,1216.14 Q126.57,1177.79 163.42,1162.22 L242.05,1128.98 A360,360 0 0 1 248.67,1066.05 L178.66,1017.19 Q145.86,994.3 164.95,959.15 L216.48,864.23 Q235.57,829.08 272.63,844.12 L351.73,876.22 A360,360 0 0 1 400.91,836.4 L385.96,752.35 Q378.95,712.97 417.3,701.61 L520.86,670.94 Q559.21,659.57 574.78,696.42 L608.02,775.05 A360,360 0 0 1 670.95,781.67 L719.81,711.66 Q742.7,678.86 777.85,697.95 L872.77,749.48 Q907.92,768.57 892.88,805.63 L860.78,884.73 A360,360 0 0 1 900.6,933.91 L984.65,918.96 Q1024.03,911.95 1035.39,950.3 L1066.06,1053.86 Q1077.43,1092.21 1040.58,1107.78 L961.95,1141.02 A360,360 0 0 1 955.33,1203.95 Z" fill="#ffffff" stroke="#2c5a7d" stroke-width="30.49"/><path d="M455,1015 L790,1015 M665,890 L795,1015 L665,1145 M750,1278 L420,1278 M545,1150 L415,1278 L545,1405" fill="none" stroke="#2c5a7d" stroke-width="30.49" stroke-linecap="round" stroke-linejoin="miter"/></g><g transform="translate(325,1450) scale(0.088543)" ><circle cx="972" cy="892" r="667" fill="#ffffff" stroke="none"/><path d="M425.63,1274.58 A667,667 0 0 1 1328.41,328.21" fill="none" stroke="#2c5a7d" stroke-width="30.49" stroke-linecap="round"/><path d="M1521.69,514.21 A667,667 0 0 1 599.98,1445.62" fill="none" stroke="#2c5a7d" stroke-width="30.49" stroke-linecap="round"/><path d="M1305,140 L1330,320 L1160,420" fill="none" stroke="#2c5a7d" stroke-width="30.49" stroke-linecap="round" stroke-linejoin="miter"/><path d="M765,1358 L600,1445 L622,1640" fill="none" stroke="#2c5a7d" stroke-width="30.49" stroke-linecap="round" stroke-linejoin="miter"/><path d="M853,527.96 L863.39,408.89 Q866,379 896,379 L1048,379 Q1078,379 1080.61,408.89 L1091,527.96 A383,383 0 0 1 1145.27,550.44 L1236.82,473.59 Q1259.79,454.3 1281.01,475.51 L1388.49,582.99 Q1409.7,604.21 1390.41,627.18 L1313.56,718.73 A383,383 0 0 1 1336.04,773 L1455.11,783.39 Q1485,786 1485,816 L1485,968 Q1485,998 1455.11,1000.61 L1336.04,1011 A383,383 0 0 1 1313.56,1065.27 L1390.41,1156.82 Q1409.7,1179.79 1388.49,1201.01 L1281.01,1308.49 Q1259.79,1329.7 1236.82,1310.41 L1145.27,1233.56 A383,383 0 0 1 1091,1256.04 L1080.61,1375.11 Q1078,1405 1048,1405 L896,1405 Q866,1405 863.39,1375.11 L853,1256.04 A383,383 0 0 1 798.73,1233.56 L707.18,1310.41 Q684.21,1329.7 662.99,1308.49 L555.51,1201.01 Q534.3,1179.79 553.59,1156.82 L630.44,1065.27 A383,383 0 0 1 607.96,1011 L488.89,1000.61 Q459,998 459,968 L459,816 Q459,786 488.89,783.39 L607.96,773 A383,383 0 0 1 630.44,718.73 L553.59,627.18 Q534.3,604.21 555.51,582.99 L662.99,475.51 Q684.21,454.3 707.18,473.59 L798.73,550.44 A383,383 0 0 1 853,527.96 Z" fill="#c8fafb" stroke="#2c5a7d" stroke-width="30.49"/><circle cx="972" cy="892" r="290" fill="#ffffff" stroke="#2c5a7d" stroke-width="30.49"/><path d="M820,852 L958,987 L1200,744" fill="none" stroke="#2c5a7d" stroke-width="128" stroke-linecap="round" stroke-linejoin="round"/><path d="M820,852 L958,987 L1200,744" fill="none" stroke="#c8fafb" stroke-width="68" stroke-linecap="round" stroke-linejoin="round"/></g></g>
<g id="icon8"><circle cx="948.3" cy="1452.6" r="90" fill="#a0ecf0" stroke="none"/><path d="M954.87,1328.95 A124.2,124.2 0 0 1 969.51,1330.54 M982.2,1333.38 A124.2,124.2 0 0 1 997.33,1338.67 M1008.82,1344.27 A124.2,124.2 0 0 1 1021.8,1352.52 M1032.55,1361.28 A124.2,124.2 0 0 1 1042.96,1372.01 M841.68,1390.15 A124.2,124.2 0 0 1 849.74,1378.08 M830.22,1416.07 A124.2,124.2 0 0 1 835.34,1402.48 M824.89,1444.55 A124.2,124.2 0 0 1 826.8,1429.73 M826.16,1472.64 A124.2,124.2 0 0 1 824.68,1457.55 M1072.99,1451.48 A124.2,124.2 0 0 1 1072.2,1467.06 M1069.87,1480.73 A124.2,124.2 0 0 1 1065.51,1495.48 M1060.14,1508.03 A124.2,124.2 0 0 1 1053.32,1520.1 M1044.08,1532.67 A124.2,124.2 0 0 1 1033.19,1544.13 M1022.15,1553.22 A124.2,124.2 0 0 1 1009.58,1561.31 M996.53,1567.66 A124.2,124.2 0 0 1 982.2,1572.62" fill="none" stroke="#2c5a7d" stroke-width="2.7" stroke-linecap="round"/><g transform="translate(815,1310) scale(0.088543)" ><path d="M1147,151 L1702,483 Q1732,502 1730,540 C1712,900 1530,1280 1120,1490 C710,1280 528,900 510,540 Q508,502 538,483 L1093,151 Q1120,135 1147,151 Z" fill="#ffffff" stroke="#2c5a7d" stroke-width="30.49"/><path d="M1143,338 L1543,575 Q1570,592 1568,625 C1553,880 1430,1175 1120,1330 C810,1175 687,880 672,625 Q670,592 697,575 L1097,338 Q1120,325 1143,338 Z" fill="#c8fafb" stroke="#2c5a7d" stroke-width="30.49"/><path d="M668,732 Q715,650 762,732 L1152,1435 Q1190,1505 1110,1505 L320,1505 Q240,1505 278,1435 Z" fill="#c8fafb" stroke="#2c5a7d" stroke-width="30.49"/><rect x="675" y="905" width="82" height="280" rx="41" fill="#c8fafb" stroke="#2c5a7d" stroke-width="30.49"/><circle cx="712" cy="1355" r="62" fill="#ffffff" stroke="#2c5a7d" stroke-width="30.49"/></g><g transform="translate(950,1370) scale(0.088543)" ><path d="M732,480 L732,390 C732,280 810,225 900,225 C1000,225 1070,290 1075,380 C1080,470 1160,520 1250,520" fill="none" stroke="#2c5a7d" stroke-width="30.49" stroke-linecap="round" stroke-linejoin="round"/><path d="M1245,265 L1245,410 M1355,520 L1505,520 M1245,630 L1245,775" fill="none" stroke="#2c5a7d" stroke-width="30.49" stroke-linecap="round"/><rect x="590" y="468" width="285" height="300" rx="38" fill="#c8fafb" stroke="#2c5a7d" stroke-width="30.49"/><circle cx="732" cy="1160" r="470" fill="#c8fafb" stroke="#2c5a7d" stroke-width="30.49"/><rect x="682" y="855" width="106" height="335" rx="53" fill="#ffffff" stroke="#2c5a7d" stroke-width="30.49"/><circle cx="732" cy="1385" r="75" fill="#ffffff" stroke="#2c5a7d" stroke-width="30.49"/></g><g transform="translate(825,1445) scale(0.088543)" ><path d="M180,358 L610,358 Q655,358 655,403 L655,835 Q655,880 610,880 L503,880 L503,1000 Q503,1032 477,1014 L312,880 L180,880 Q135,880 135,835 L135,403 Q135,358 180,358 Z" fill="#ffffff" stroke="#2c5a7d" stroke-width="30.49"/><path d="M395,440 L330,440 C250,440 205,500 205,580 C205,650 250,690 290,700 L290,770 Q290,800 320,800 L480,800 Q510,800 510,770 L510,700 C550,690 590,650 590,580 C590,500 545,440 465,440 Z" fill="#c8fafb" stroke="#2c5a7d" stroke-width="30.49"/><path d="M292,535 L342,588 C340,625 300,640 270,620 C245,600 250,565 292,535 Z M503,535 L453,588 C455,625 495,640 525,620 C550,600 545,565 503,535 Z" fill="#ffffff" stroke="#2c5a7d" stroke-width="28.97"/><path d="M358,735 L358,800 M432,735 L432,800" fill="none" stroke="#2c5a7d" stroke-width="30.49"/><path d="M758,975 C790,860 870,790 960,765 L1280,765 C1370,790 1450,860 1482,975 Z" fill="#c8fafb" stroke="#2c5a7d" stroke-width="30.49"/><path d="M1120,115 C1050,130 940,190 900,215 C830,265 795,350 795,450 C795,560 850,660 1050,840 Q1120,900 1190,840 C1390,660 1445,560 1445,450 C1445,350 1410,265 1340,215 C1300,190 1190,130 1120,115 Z" fill="#c8fafb" stroke="#2c5a7d" stroke-width="30.49"/><path d="M805,405 C875,292 1000,235 1120,235 C1240,235 1365,292 1435,405 L1445,450 C1445,560 1390,660 1190,840 Q1120,900 1050,840 C850,660 795,560 795,450 Z" fill="#ffffff" stroke="none"/><path d="M1120,115 C1050,130 940,190 900,215 C830,265 795,350 795,450 C795,560 850,660 1050,840 Q1120,900 1190,840 C1390,660 1445,560 1445,450 C1445,350 1410,265 1340,215 C1300,190 1190,130 1120,115 Z" fill="none" stroke="#2c5a7d" stroke-width="30.49"/><path d="M1035,680 L1035,812 Q1120,900 1205,812 L1205,680" fill="#ffffff" stroke="#2c5a7d" stroke-width="30.49"/><circle cx="899" cy="453" r="52" fill="#ffffff" stroke="#2c5a7d" stroke-width="30.49"/><circle cx="1341" cy="453" r="52" fill="#ffffff" stroke="#2c5a7d" stroke-width="30.49"/><path d="M935,262 L935,540 C935,640 1020,700 1120,700 C1220,700 1305,640 1305,540 L1305,262" fill="#ffffff" stroke="#2c5a7d" stroke-width="30.49"/><path d="M805,405 C875,292 1000,235 1120,235 C1240,235 1365,292 1435,405" fill="none" stroke="#2c5a7d" stroke-width="30.49" stroke-linecap="round"/><path d="M935,350 Q1120,312 1305,350 L1300,460 C1290,520 1200,545 1120,465 C1040,545 950,520 940,460 Z" fill="#c8fafb" stroke="#2c5a7d" stroke-width="30.49"/><rect x="680" y="975" width="890" height="540" rx="42" fill="#ffffff" stroke="#2c5a7d" stroke-width="30.49"/></g></g>
<g id="icon9"><circle cx="1437" cy="1456" r="91" fill="#a0ecf0" stroke="none"/><path d="M1402.73,1337.63 A124.7,124.7 0 0 1 1418.88,1334.14 M1375.32,1349.18 A124.7,124.7 0 0 1 1390.18,1341.96 M1351.9,1366.45 A124.7,124.7 0 0 1 1364.51,1356.11 M1332.64,1389.4 A124.7,124.7 0 0 1 1342.42,1376.35 M1554.57,1415.67 A124.7,124.7 0 0 1 1558.8,1430.3 M1561.02,1443.6 A124.7,124.7 0 0 1 1561.79,1458.81 M1560.9,1472.48 A124.7,124.7 0 0 1 1558.15,1487.46 M1368.27,1561.49 A124.7,124.7 0 0 1 1355.29,1551.61 M1397.12,1575.62 A124.7,124.7 0 0 1 1381.26,1569 M1427.75,1581.85 A124.7,124.7 0 0 1 1412.67,1579.78 M1457.68,1580.49 A124.7,124.7 0 0 1 1442.32,1582.09" fill="none" stroke="#2c5a7d" stroke-width="2.7" stroke-linecap="round"/><g transform="translate(1420,1318) scale(0.088543)" ><rect x="190" y="172" width="885" height="1238" rx="42" fill="#ffffff" stroke="#2c5a7d" stroke-width="30.49"/><path d="M350,448 L620,448 M350,813 L620,813 M350,1163 L620,1163" fill="none" stroke="#2c5a7d" stroke-width="30.49" stroke-linecap="round"/><path d="M765,438 L812,500 L885,388 M765,805 L812,868 L885,758" fill="none" stroke="#2c5a7d" stroke-width="30.49" stroke-linecap="round" stroke-linejoin="miter"/><rect x="715" y="1053" width="220" height="219" rx="0" fill="#c8fafb" stroke="#2c5a7d" stroke-width="32.93" stroke-linejoin="miter"/><path d="M1174,495.4 L1193.12,411.45 Q1198,390 1220,390 L1340,390 Q1362,390 1366.88,411.45 L1386,495.4 A262,262 0 0 1 1434.5,523.4 L1516.76,497.98 Q1537.78,491.49 1548.78,510.54 L1608.78,614.46 Q1619.78,633.51 1603.64,648.47 L1540.5,707 A262,262 0 0 1 1540.5,763 L1603.64,821.53 Q1619.78,836.49 1608.78,855.54 L1548.78,959.46 Q1537.78,978.51 1516.76,972.02 L1434.5,946.6 A262,262 0 0 1 1386,974.6 L1366.88,1058.55 Q1362,1080 1340,1080 L1220,1080 Q1198,1080 1193.12,1058.55 L1174,974.6 A262,262 0 0 1 1125.5,946.6 L1043.24,972.02 Q1022.22,978.51 1011.22,959.46 L951.22,855.54 Q940.22,836.49 956.36,821.53 L1019.5,763 A262,262 0 0 1 1019.5,707 L956.36,648.47 Q940.22,633.51 951.22,614.46 L1011.22,510.54 Q1022.22,491.49 1043.24,497.98 L1125.5,523.4 A262,262 0 0 1 1174,495.4 Z" fill="#ffffff" stroke="#ffffff" stroke-width="73.19"/><path d="M1174,495.4 L1193.12,411.45 Q1198,390 1220,390 L1340,390 Q1362,390 1366.88,411.45 L1386,495.4 A262,262 0 0 1 1434.5,523.4 L1516.76,497.98 Q1537.78,491.49 1548.78,510.54 L1608.78,614.46 Q1619.78,633.51 1603.64,648.47 L1540.5,707 A262,262 0 0 1 1540.5,763 L1603.64,821.53 Q1619.78,836.49 1608.78,855.54 L1548.78,959.46 Q1537.78,978.51 1516.76,972.02 L1434.5,946.6 A262,262 0 0 1 1386,974.6 L1366.88,1058.55 Q1362,1080 1340,1080 L1220,1080 Q1198,1080 1193.12,1058.55 L1174,974.6 A262,262 0 0 1 1125.5,946.6 L1043.24,972.02 Q1022.22,978.51 1011.22,959.46 L951.22,855.54 Q940.22,836.49 956.36,821.53 L1019.5,763 A262,262 0 0 1 1019.5,707 L956.36,648.47 Q940.22,633.51 951.22,614.46 L1011.22,510.54 Q1022.22,491.49 1043.24,497.98 L1125.5,523.4 A262,262 0 0 1 1174,495.4 Z" fill="#c8fafb" stroke="#2c5a7d" stroke-width="30.49"/><circle cx="1280" cy="735" r="140" fill="#ffffff" stroke="#2c5a7d" stroke-width="30.49"/></g><g transform="translate(1305,1390) scale(0.088543)" ><path d="M145,310 L145,1447 A502,182 0 0 0 1149,1447 L1149,310 Z" fill="#ffffff" stroke="#2c5a7d" stroke-width="30.49"/><path d="M145,695 A502,182 0 0 0 1149,695" fill="none" stroke="#2c5a7d" stroke-width="30.49"/><path d="M145,1070 A502,182 0 0 0 1149,1070" fill="none" stroke="#2c5a7d" stroke-width="30.49"/><ellipse cx="647" cy="310" rx="502" ry="182" fill="#c8fafb" stroke="#2c5a7d" stroke-width="30.49"/><path d="M295,195 L540,600 L385,750 L625,1195 L705,1030 L660,772 L860,592 L715,130 Z" fill="#c8fafb" stroke="none"/><path d="M295,195 L540,600 L385,750 L625,1195 M715,130 L860,592 L660,772 L705,1030" fill="none" stroke="#2c5a7d" stroke-width="30.49" stroke-linejoin="miter"/><path d="M735,1000 L1150,1000 L1360,1370 L1150,1740 L735,1740 L530,1370 Z" fill="#c8fafb" stroke="#2c5a7d" stroke-width="30.49" stroke-linejoin="miter"/><g transform="translate(1492.5,310) scale(-1,1)"><path d="M372,1180 L372,895 A39,39 0 0 1 450,895 L450,840 A36,36 0 0 1 522,840 L522,812 A39,39 0 0 1 600,812 L600,868 A40,40 0 0 1 680,868 L680,1140 L735,1030 C755,985 815,1000 798,1050 C780,1120 765,1180 742,1230 C700,1320 625,1350 560,1350 C450,1350 372,1290 372,1180 Z" fill="#ffffff" stroke="#2c5a7d" stroke-width="30.49"/><path d="M450,895 L450,1030 M522,840 L522,1030 M600,815 L600,1030" fill="none" stroke="#2c5a7d" stroke-width="30.49" stroke-linecap="round"/></g></g><g transform="translate(1415,1445) scale(0.088543)" ><path d="M938,183 L1492,438 L1492,1160 C1460,1350 1200,1490 938,1590 C676,1490 416,1350 385,1160 L385,438 Z" fill="#c8fafb" stroke="#2c5a7d" stroke-width="30.49" stroke-linejoin="miter"/><path d="M938,322 L1368,520 L1368,1130 C1340,1280 1140,1380 938,1455 C736,1380 536,1280 510,1130 L510,520 Z" fill="#ffffff" stroke="#2c5a7d" stroke-width="30.49" stroke-linejoin="miter"/><path d="M760,595 L955,595 L1150,790 L1150,1140 Q1150,1170 1120,1170 L755,1170 Q725,1170 725,1140 L725,625 Q725,595 755,595 Z" fill="#c8fafb" stroke="#2c5a7d" stroke-width="30.49"/><path d="M955,595 L955,755 Q955,790 990,790 L1150,790" fill="none" stroke="#2c5a7d" stroke-width="30.49"/></g></g>
<text x="326.35" y="295.0" font-size="84.5" textLength="52.8" lengthAdjust="spacingAndGlyphs" class="tt">D</text><text x="383.51" y="295.0" font-size="84.5" textLength="47.68" lengthAdjust="spacingAndGlyphs" class="tt">A</text><text x="429.11" y="295.0" font-size="84.5" textLength="50.13" lengthAdjust="spacingAndGlyphs" class="tt">T</text><text x="478.81" y="295.0" font-size="84.5" textLength="48.18" lengthAdjust="spacingAndGlyphs" class="tt">A</text><text x="551.51" y="295.0" font-size="84.5" textLength="72.47" lengthAdjust="spacingAndGlyphs" class="tt">M</text><text x="627.51" y="295.0" font-size="84.5" textLength="48.28" lengthAdjust="spacingAndGlyphs" class="tt">A</text><text x="679.96" y="295.0" font-size="84.5" textLength="57.14" lengthAdjust="spacingAndGlyphs" class="tt">N</text><text x="741.31" y="295.0" font-size="84.5" textLength="48.48" lengthAdjust="spacingAndGlyphs" class="tt">A</text><text x="794.21" y="295.0" font-size="84.5" textLength="53.26" lengthAdjust="spacingAndGlyphs" class="tt">G</text><text x="852.01" y="295.0" font-size="84.5" textLength="43.44" lengthAdjust="spacingAndGlyphs" class="tt">E</text><text x="896.45" y="295.0" font-size="84.5" textLength="73.1" lengthAdjust="spacingAndGlyphs" class="tt">M</text><text x="972.35" y="295.0" font-size="84.5" textLength="43.07" lengthAdjust="spacingAndGlyphs" class="tt">E</text><text x="1017.4" y="295.0" font-size="84.5" textLength="57.66" lengthAdjust="spacingAndGlyphs" class="tt">N</text><text x="1075.53" y="295.0" font-size="84.5" textLength="49.37" lengthAdjust="spacingAndGlyphs" class="tt">T</text><text x="1148.41" y="295.0" font-size="84.5" textLength="50.29" lengthAdjust="spacingAndGlyphs" class="tt">C</text><text x="1203.79" y="295.0" font-size="84.5" textLength="51.85" lengthAdjust="spacingAndGlyphs" class="tt">O</text><text x="1259.17" y="295.0" font-size="84.5" textLength="57.01" lengthAdjust="spacingAndGlyphs" class="tt">N</text><text x="1318.81" y="295.0" font-size="84.5" textLength="50.29" lengthAdjust="spacingAndGlyphs" class="tt">C</text><text x="1373.82" y="295.0" font-size="84.5" textLength="43.32" lengthAdjust="spacingAndGlyphs" class="tt">E</text><text x="1418.51" y="295.0" font-size="84.5" textLength="53.14" lengthAdjust="spacingAndGlyphs" class="tt">P</text><text x="1472.14" y="295.0" font-size="84.5" textLength="49.26" lengthAdjust="spacingAndGlyphs" class="tt">T</text><text x="1523.22" y="295.0" font-size="84.5" textLength="47.5" lengthAdjust="spacingAndGlyphs" class="tt">S</text><text x="349.38" y="751.6" font-size="32.1" textLength="122.69" lengthAdjust="spacingAndGlyphs" class="lb">MASTER</text><text x="478.85" y="751.6" font-size="32.1" textLength="81.9" lengthAdjust="spacingAndGlyphs" class="lb">DATA</text><text x="344.09" y="788.2" font-size="32.1" textLength="221.41" lengthAdjust="spacingAndGlyphs" class="lb">MANAGEMENT</text><text x="839.76" y="751.6" font-size="32.1" textLength="81.49" lengthAdjust="spacingAndGlyphs" class="lb">DATA</text><text x="926.7" y="751.6" font-size="32.1" textLength="130.65" lengthAdjust="spacingAndGlyphs" class="lb">QUALITY</text><text x="837.59" y="788.2" font-size="32.1" textLength="221.82" lengthAdjust="spacingAndGlyphs" class="lb">MANAGEMENT</text><text x="1309.15" y="751.5" font-size="32.1" textLength="172.04" lengthAdjust="spacingAndGlyphs" class="lb">MANAGING</text><text x="1487.45" y="751.5" font-size="32.1" textLength="81.8" lengthAdjust="spacingAndGlyphs" class="lb">DATA</text><text x="1367.51" y="788.2" font-size="32.1" textLength="143.12" lengthAdjust="spacingAndGlyphs" class="lb">SECURITY</text><text x="318.06" y="1221.9" font-size="32.1" textLength="81.69" lengthAdjust="spacingAndGlyphs" class="lb">DATA</text><text x="405.22" y="1221.9" font-size="32.1" textLength="187.12" lengthAdjust="spacingAndGlyphs" class="lb">REPOSITORY</text><text x="879.07" y="1200" font-size="32.1" textLength="52.02" lengthAdjust="spacingAndGlyphs" class="lb">BIG</text><text x="937.67" y="1200" font-size="32.1" textLength="81.18" lengthAdjust="spacingAndGlyphs" class="lb">DATA</text><text x="837.59" y="1236.4" font-size="32.1" textLength="221.82" lengthAdjust="spacingAndGlyphs" class="lb">MANAGEMENT</text><text x="1274.11" y="1221.9" font-size="32.1" textLength="160.58" lengthAdjust="spacingAndGlyphs" class="lb">ACCURATE</text><text x="1442.58" y="1221.9" font-size="32.1" textLength="160.03" lengthAdjust="spacingAndGlyphs" class="lb">DECISIONS</text><text x="347.52" y="1650.9" font-size="32.1" textLength="214.67" lengthAdjust="spacingAndGlyphs" class="lb">OPERATIONAL</text><text x="360.09" y="1687.3" font-size="32.1" textLength="189.31" lengthAdjust="spacingAndGlyphs" class="lb">NIMBLENESS</text><text x="831.6" y="1673" font-size="32.1" textLength="144.03" lengthAdjust="spacingAndGlyphs" class="lb">SECURITY</text><text x="981.41" y="1673" font-size="32.1" textLength="83.03" lengthAdjust="spacingAndGlyphs" class="lb">RISKS</text><text x="1323.28" y="1650.9" font-size="32.1" textLength="143.71" lengthAdjust="spacingAndGlyphs" class="lb">REDUCED</text><text x="1473.85" y="1650.9" font-size="32.1" textLength="81.9" lengthAdjust="spacingAndGlyphs" class="lb">DATA</text><text x="1402.44" y="1687.3" font-size="32.1" textLength="72.57" lengthAdjust="spacingAndGlyphs" class="lb">LOSS</text>
</svg></body></html>
